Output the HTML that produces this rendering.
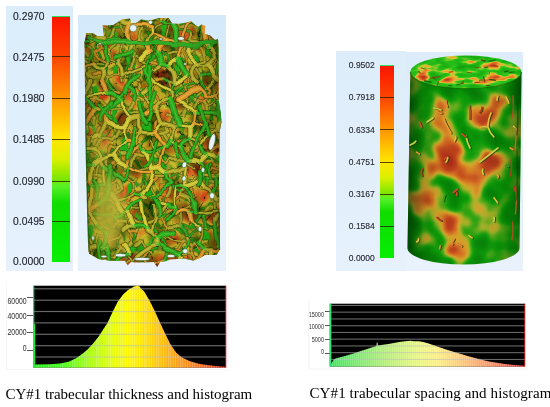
<!DOCTYPE html>
<html><head><meta charset="utf-8"><title>CY#1</title>
<style>
html,body{margin:0;padding:0;background:#fff;}
body{width:550px;height:407px;position:relative;overflow:hidden;font-family:"Liberation Sans",Arial,sans-serif;}
.abs{position:absolute;}
.lg1{position:absolute;left:0;width:44.6px;text-align:right;font-size:10.3px;line-height:12px;height:12px;color:#2c3038;text-shadow:0 0 .5px rgba(44,48,56,.55);}
.lg2{position:absolute;left:336px;width:38.8px;text-align:right;font-size:8.5px;line-height:10px;height:10px;color:#30343c;text-shadow:0 0 .4px rgba(44,48,56,.5);}
.cap{position:absolute;font-family:"Liberation Serif","Times New Roman",serif;font-size:15px;line-height:18px;color:#000;white-space:nowrap;}
.ax{position:absolute;font-size:8.3px;line-height:8px;height:8px;color:#2e2e2e;text-align:right;transform-origin:100% 50%;}
</style></head><body>
<!-- panels -->
<div class="abs" style="left:6.2px;top:6.2px;width:67.2px;height:264.4px;background:linear-gradient(180deg,#dbedfb,#e6f1fc);"></div>
<div class="abs" style="left:78.4px;top:14.5px;width:147.7px;height:256.2px;background:linear-gradient(180deg,#d4eafa,#e9f2fc);"></div>
<div class="abs" style="left:336.2px;top:50.8px;width:70px;height:219.8px;background:linear-gradient(180deg,#ddedfa,#e6f1fc);"></div>
<div class="abs" style="left:405.5px;top:52px;width:117.5px;height:218.6px;background:linear-gradient(180deg,#dcecfa,#e9f2fc);"></div>
<!-- colour bars -->
<div class="abs" style="left:52.4px;top:16px;width:17.6px;height:245.6px;background:linear-gradient(180deg,#ff1400 0%,#fb4600 16.7%,#ff9600 33.3%,#ffe600 50%,#dcf000 58%,#78e600 66.7%,#5af028 69%,#10dc00 76%,#06ee02 100%);"></div>
<div class="abs" style="left:52.4px;top:15.6px;width:17.6px;height:1px;background:#2fe060;"></div>
<div class="abs" style="left:380.2px;top:65.5px;width:13.6px;height:192.5px;background:linear-gradient(180deg,#ff1400 0%,#fb4600 16.7%,#ff9600 33.3%,#ffe600 50%,#dcf000 58%,#78e600 66.7%,#5af028 69%,#10dc00 76%,#06ee02 100%);"></div>
<div class="abs" style="left:380.2px;top:65px;width:13.6px;height:1px;background:#2fe060;"></div>
<div class="lg1" style="top:11.0px;">0.2970</div><div class="lg1" style="top:51.5px;">0.2475</div><div class="abs" style="left:52.4px;top:56.4px;width:17.6px;height:1px;background:rgba(40,30,0,.8);"></div><div class="lg1" style="top:92.7px;">0.1980</div><div class="abs" style="left:52.4px;top:97.6px;width:17.6px;height:1px;background:rgba(40,30,0,.8);"></div><div class="lg1" style="top:133.8px;">0.1485</div><div class="abs" style="left:52.4px;top:138.7px;width:17.6px;height:1px;background:rgba(40,30,0,.8);"></div><div class="lg1" style="top:175.7px;">0.0990</div><div class="abs" style="left:52.4px;top:180.6px;width:17.6px;height:1px;background:rgba(40,30,0,.8);"></div><div class="lg1" style="top:216.4px;">0.0495</div><div class="abs" style="left:52.4px;top:221.3px;width:17.6px;height:1px;background:rgba(40,30,0,.8);"></div><div class="lg1" style="top:256.1px;">0.0000</div><div class="lg2" style="top:60.4px;">0.9502</div><div class="lg2" style="top:92.3px;">0.7918</div><div class="abs" style="left:380.2px;top:97.0px;width:13.6px;height:1px;background:rgba(40,30,0,.8);"></div><div class="lg2" style="top:124.7px;">0.6334</div><div class="abs" style="left:380.2px;top:129.4px;width:13.6px;height:1px;background:rgba(40,30,0,.8);"></div><div class="lg2" style="top:157.0px;">0.4751</div><div class="abs" style="left:380.2px;top:161.7px;width:13.6px;height:1px;background:rgba(40,30,0,.8);"></div><div class="lg2" style="top:189.1px;">0.3167</div><div class="abs" style="left:380.2px;top:193.8px;width:13.6px;height:1px;background:rgba(40,30,0,.8);"></div><div class="lg2" style="top:220.9px;">0.1584</div><div class="abs" style="left:380.2px;top:225.6px;width:13.6px;height:1px;background:rgba(40,30,0,.8);"></div><div class="lg2" style="top:252.8px;">0.0000</div><div class="cap" style="left:5.5px;top:384.5px;letter-spacing:-0.04px;">CY#1 trabecular thickness and histogram</div><div class="cap" style="left:309.5px;top:384px;letter-spacing:0.1px;">CY#1 trabecular spacing and histogram</div><div class="ax" style="left:0;width:26.6px;top:296.5px;font-size:8.4px;transform:scaleX(.82);">60000</div><div class="abs" style="left:27px;top:296.5px;width:6.5px;height:1px;background:#555;"></div><div class="ax" style="left:0;width:26.6px;top:312.0px;font-size:8.4px;transform:scaleX(.82);">40000</div><div class="abs" style="left:27px;top:314.5px;width:6.5px;height:1px;background:#555;"></div><div class="ax" style="left:0;width:26.6px;top:328.2px;font-size:8.4px;transform:scaleX(.82);">20000</div><div class="abs" style="left:27px;top:331.5px;width:6.5px;height:1px;background:#555;"></div><div class="ax" style="left:0;width:26.6px;top:344.1px;font-size:8.4px;transform:scaleX(.82);">0</div><div class="abs" style="left:27px;top:349.8px;width:6.5px;height:1px;background:#555;"></div><div class="ax" style="left:300px;width:24px;top:310.8px;font-size:6.5px;transform:scaleX(.85);">15000</div><div class="abs" style="left:324.5px;top:311.2px;width:5px;height:1px;background:#555;"></div><div class="ax" style="left:300px;width:24px;top:323.0px;font-size:6.5px;transform:scaleX(.85);">10000</div><div class="abs" style="left:324.5px;top:324.5px;width:5px;height:1px;background:#555;"></div><div class="ax" style="left:300px;width:24px;top:335.5px;font-size:6.5px;transform:scaleX(.85);">5000</div><div class="abs" style="left:324.5px;top:338.5px;width:5px;height:1px;background:#555;"></div><div class="ax" style="left:300px;width:24px;top:348.4px;font-size:6.5px;transform:scaleX(.85);">0</div><div class="abs" style="left:324.5px;top:352.5px;width:5px;height:1px;background:#555;"></div><svg class="abs" style="left:0;top:0;" width="550" height="407" viewBox="0 0 550 407">
<defs>
<linearGradient id="hg1" x1="33.5" x2="226" y1="0" y2="0" gradientUnits="userSpaceOnUse">
<stop offset="0" stop-color="#20f010"/><stop offset="0.14" stop-color="#3cff14"/><stop offset="0.28" stop-color="#a0ff10"/><stop offset="0.40" stop-color="#e0ff08"/><stop offset="0.50" stop-color="#fff600"/><stop offset="0.58" stop-color="#ffe000"/><stop offset="0.72" stop-color="#ffa810"/><stop offset="0.85" stop-color="#ff7820"/><stop offset="0.95" stop-color="#ff4020"/><stop offset="1" stop-color="#ff1010"/></linearGradient>
<linearGradient id="hg2" x1="330" x2="525" y1="0" y2="0" gradientUnits="userSpaceOnUse">
<stop offset="0" stop-color="#38e65a"/><stop offset="0.15" stop-color="#7cec6a"/><stop offset="0.3" stop-color="#b8f270"/><stop offset="0.45" stop-color="#e8f878"/><stop offset="0.55" stop-color="#fff07a"/><stop offset="0.7" stop-color="#ffc070"/><stop offset="0.85" stop-color="#ff8860"/><stop offset="1" stop-color="#ff3030"/></linearGradient>
<pattern id="st1" x="33.5" y="0" width="2.4" height="10" patternUnits="userSpaceOnUse"><rect x="0" y="0" width="0.9" height="10" fill="rgba(255,255,255,.3)"/></pattern>
<pattern id="st2" x="330" y="0" width="2" height="10" patternUnits="userSpaceOnUse"><rect x="0" y="0" width="0.8" height="10" fill="rgba(255,255,255,.22)"/></pattern>
<filter id="fcyl" x="0" y="0" width="100%" height="100%" color-interpolation-filters="sRGB">
<feGaussianBlur in="SourceGraphic" stdDeviation="6" result="bias"/>
<feTurbulence type="fractalNoise" baseFrequency="0.045 0.04" numOctaves="2" seed="7"/>
<feColorMatrix type="matrix" values="1 0 0 0 0 1 0 0 0 0 1 0 0 0 0 0 0 0 0 1" result="n"/>
<feComposite in="bias" in2="n" operator="arithmetic" k1="0" k2="0.52" k3="0.8" k4="-0.085"/>
<feComponentTransfer><feFuncR type="table" tableValues="0.016 0.017 0.017 0.018 0.019 0.020 0.021 0.022 0.023 0.025 0.029 0.034 0.039 0.044 0.080 0.164 0.247 0.338 0.457 0.576 0.676 0.747 0.818 0.845 0.841 0.837 0.833 0.821 0.803 0.785 0.767 0.749 0.736 0.725 0.714 0.703 0.692 0.680 0.669 0.658 0.647"/><feFuncG type="table" tableValues="0.447 0.457 0.467 0.476 0.486 0.496 0.506 0.516 0.525 0.537 0.554 0.571 0.588 0.605 0.621 0.635 0.648 0.662 0.676 0.690 0.689 0.667 0.644 0.606 0.557 0.508 0.459 0.417 0.379 0.342 0.304 0.266 0.250 0.238 0.226 0.215 0.203 0.192 0.180 0.168 0.157"/><feFuncB type="table" tableValues="0.016 0.016 0.017 0.017 0.017 0.018 0.018 0.019 0.019 0.020 0.023 0.025 0.027 0.030 0.039 0.059 0.078 0.098 0.118 0.137 0.150 0.153 0.156 0.153 0.147 0.142 0.136 0.129 0.123 0.116 0.110 0.103 0.100 0.097 0.094 0.092 0.089 0.086 0.084 0.081 0.078"/></feComponentTransfer>
<feComposite in2="SourceAlpha" operator="in"/></filter>
<filter id="ftop" x="0" y="0" width="100%" height="100%" color-interpolation-filters="sRGB">
<feGaussianBlur in="SourceGraphic" stdDeviation="2.2 1.2" result="bias"/>
<feTurbulence type="fractalNoise" baseFrequency="0.07 0.2" numOctaves="2" seed="11"/>
<feColorMatrix type="matrix" values="1 0 0 0 0 1 0 0 0 0 1 0 0 0 0 0 0 0 0 1" result="n"/>
<feComposite in="bias" in2="n" operator="arithmetic" k1="0" k2="0.36" k3="0.95" k4="-0.16"/>
<feComponentTransfer><feFuncR type="table" tableValues="0.086 0.089 0.093 0.096 0.099 0.102 0.105 0.108 0.111 0.115 0.118 0.127 0.137 0.147 0.157 0.167 0.176 0.268 0.359 0.465 0.631 0.778 0.845 0.912 0.920 0.914 0.907 0.901 0.894 0.871 0.848 0.825 0.802 0.779 0.759 0.743 0.728 0.713 0.697 0.682 0.667"/><feFuncG type="table" tableValues="0.627 0.635 0.643 0.651 0.659 0.667 0.675 0.682 0.690 0.698 0.706 0.716 0.725 0.735 0.745 0.755 0.765 0.772 0.779 0.786 0.796 0.795 0.751 0.707 0.660 0.613 0.565 0.518 0.471 0.431 0.392 0.353 0.314 0.275 0.245 0.230 0.216 0.201 0.186 0.172 0.157"/><feFuncB type="table" tableValues="0.059 0.061 0.063 0.065 0.067 0.069 0.071 0.073 0.075 0.076 0.078 0.084 0.089 0.094 0.099 0.105 0.110 0.124 0.138 0.155 0.182 0.203 0.196 0.190 0.183 0.176 0.170 0.163 0.157 0.150 0.143 0.136 0.129 0.122 0.116 0.113 0.110 0.107 0.104 0.101 0.098"/></feComponentTransfer>
<feComposite in2="SourceAlpha" operator="in"/></filter>
<filter id="ftr" x="0" y="0" width="100%" height="100%" color-interpolation-filters="sRGB">
<feTurbulence type="turbulence" baseFrequency="0.052 0.044" numOctaves="2" seed="5"/>
<feColorMatrix type="matrix" values="1 0 0 0 0 1 0 0 0 0 1 0 0 0 0 0 0 0 0 1"/>
<feComponentTransfer result="col"><feFuncR type="table" tableValues="0.110 0.129 0.149 0.222 0.463 0.585 0.676 0.721 0.765 0.800 0.800 0.800 0.800 0.804 0.821 0.839 0.856 0.871 0.871 0.871 0.871 0.871 0.864 0.849 0.834 0.818 0.803 0.787 0.779 0.773 0.767 0.761 0.755 0.749 0.743 0.737 0.730 0.724 0.718 0.712 0.706"/><feFuncG type="table" tableValues="0.659 0.654 0.649 0.491 0.502 0.590 0.657 0.691 0.725 0.746 0.711 0.675 0.640 0.605 0.574 0.543 0.511 0.480 0.447 0.414 0.382 0.349 0.321 0.301 0.281 0.260 0.240 0.220 0.212 0.207 0.203 0.198 0.194 0.189 0.184 0.180 0.175 0.171 0.166 0.161 0.157"/><feFuncB type="table" tableValues="0.086 0.090 0.093 0.071 0.102 0.126 0.144 0.151 0.159 0.164 0.158 0.152 0.146 0.140 0.136 0.133 0.129 0.125 0.122 0.118 0.115 0.112 0.109 0.107 0.105 0.103 0.101 0.098 0.098 0.098 0.098 0.098 0.098 0.098 0.098 0.098 0.098 0.098 0.098 0.098 0.098"/></feComponentTransfer>
<feTurbulence type="turbulence" baseFrequency="0.06 0.048" numOctaves="2" seed="31"/>
<feColorMatrix type="matrix" values="0 1 0 0 0 0 1 0 0 0 0 1 0 0 0 0 0 0 0 1"/>
<feComponentTransfer result="ol"><feFuncR type="table" tableValues="0.314 0.377 0.440 0.519 0.663 0.808 0.921 0.987 1.000 1.000 1.000 1.000 1.000 1.000 1.000 1.000 1.000 1.000 1.000 1.000 1.000 1.000 1.000 1.000 1.000 1.000 1.000 1.000 1.000 1.000 1.000 1.000 1.000 1.000 1.000 1.000 1.000 1.000 1.000 1.000 1.000 1.000 1.000 1.000 1.000 1.000 1.000 1.000 1.000 1.000 1.000 1.000 1.000 1.000 1.000 1.000 1.000 1.000 1.000 1.000 1.000 1.000 1.000 1.000 1.000 1.000 1.000 1.000 1.000 1.000 1.000 1.000 1.000 1.000 1.000 1.000 1.000 1.000 1.000 1.000 1.000"/><feFuncG type="table" tableValues="0.373 0.430 0.487 0.559 0.688 0.817 0.921 0.987 1.000 1.000 1.000 1.000 1.000 1.000 1.000 1.000 1.000 1.000 1.000 1.000 1.000 1.000 1.000 1.000 1.000 1.000 1.000 1.000 1.000 1.000 1.000 1.000 1.000 1.000 1.000 1.000 1.000 1.000 1.000 1.000 1.000 1.000 1.000 1.000 1.000 1.000 1.000 1.000 1.000 1.000 1.000 1.000 1.000 1.000 1.000 1.000 1.000 1.000 1.000 1.000 1.000 1.000 1.000 1.000 1.000 1.000 1.000 1.000 1.000 1.000 1.000 1.000 1.000 1.000 1.000 1.000 1.000 1.000 1.000 1.000 1.000"/><feFuncB type="table" tableValues="0.098 0.130 0.162 0.228 0.427 0.626 0.809 0.968 1.000 1.000 1.000 1.000 1.000 1.000 1.000 1.000 1.000 1.000 1.000 1.000 1.000 1.000 1.000 1.000 1.000 1.000 1.000 1.000 1.000 1.000 1.000 1.000 1.000 1.000 1.000 1.000 1.000 1.000 1.000 1.000 1.000 1.000 1.000 1.000 1.000 1.000 1.000 1.000 1.000 1.000 1.000 1.000 1.000 1.000 1.000 1.000 1.000 1.000 1.000 1.000 1.000 1.000 1.000 1.000 1.000 1.000 1.000 1.000 1.000 1.000 1.000 1.000 1.000 1.000 1.000 1.000 1.000 1.000 1.000 1.000 1.000"/></feComponentTransfer>
<feTurbulence type="fractalNoise" baseFrequency="0.05 0.045" numOctaves="2" seed="23"/>
<feColorMatrix type="matrix" values="0 0 1 0 0 0 0 1 0 0 0 0 1 0 0 0 0 0 0 1"/>
<feComponentTransfer result="sh"><feFuncR type="table" tableValues="0.345 0.356 0.366 0.376 0.387 0.397 0.408 0.418 0.429 0.439 0.450 0.460 0.471 0.516 0.562 0.608 0.654 0.700 0.751 0.802 0.853 0.899 0.922 0.946 0.969 0.989 0.993 0.996 1.000 1.000 1.000 1.000 1.000 1.000 1.000 1.000 1.000 1.000 1.000 1.000 1.000"/><feFuncG type="table" tableValues="0.408 0.417 0.426 0.435 0.444 0.454 0.463 0.472 0.481 0.490 0.499 0.508 0.518 0.558 0.599 0.640 0.681 0.723 0.770 0.817 0.864 0.906 0.928 0.949 0.971 0.989 0.993 0.996 1.000 1.000 1.000 1.000 1.000 1.000 1.000 1.000 1.000 1.000 1.000 1.000 1.000"/><feFuncB type="table" tableValues="0.110 0.116 0.122 0.127 0.133 0.139 0.145 0.151 0.157 0.163 0.169 0.175 0.180 0.225 0.269 0.313 0.357 0.410 0.498 0.586 0.675 0.756 0.809 0.862 0.915 0.960 0.973 0.987 1.000 1.000 1.000 1.000 1.000 1.000 1.000 1.000 1.000 1.000 1.000 1.000 1.000"/></feComponentTransfer>
<feBlend in="col" in2="ol" mode="multiply" result="c2"/>
<feBlend in="c2" in2="sh" mode="multiply" result="c3"/>
<feTurbulence type="fractalNoise" baseFrequency="0.075 0.05" numOctaves="2" seed="40"/>
<feColorMatrix type="matrix" values="0 0 0 0 0.11 0 0 0 0 0.68 0 0 0 0 0.08 -14 0 0 0 5.1" result="gr"/>
<feComposite in="gr" in2="c3" operator="over"/>
<feComposite in2="SourceAlpha" operator="in"/></filter>
<filter id="fnet" x="-5%" y="-5%" width="110%" height="110%" color-interpolation-filters="sRGB"><feTurbulence type="fractalNoise" baseFrequency="0.045" numOctaves="2" seed="9" result="d"/><feDisplacementMap in="SourceGraphic" in2="d" scale="7" xChannelSelector="R" yChannelSelector="G"/><feGaussianBlur stdDeviation="0.35"/></filter>
<filter id="fsm" x="-30%" y="-30%" width="160%" height="160%"><feGaussianBlur stdDeviation="5"/></filter>
<linearGradient id="cylsh" x1="408" x2="522" y1="0" y2="0" gradientUnits="userSpaceOnUse">
<stop offset="0" stop-color="#001800" stop-opacity=".6"/><stop offset="0.06" stop-color="#001800" stop-opacity=".38"/><stop offset="0.14" stop-color="#001800" stop-opacity=".15"/><stop offset="0.25" stop-color="#001800" stop-opacity=".04"/><stop offset="0.5" stop-color="#fff" stop-opacity=".0"/><stop offset="0.8" stop-color="#002000" stop-opacity=".08"/><stop offset="0.93" stop-color="#002000" stop-opacity=".25"/><stop offset="1" stop-color="#002000" stop-opacity=".5"/></linearGradient>
<linearGradient id="trsh" x1="86" x2="219" y1="0" y2="0" gradientUnits="userSpaceOnUse">
<stop offset="0" stop-color="#202000" stop-opacity=".35"/><stop offset="0.08" stop-color="#202000" stop-opacity=".1"/><stop offset="0.5" stop-color="#fff" stop-opacity="0"/><stop offset="0.92" stop-color="#202000" stop-opacity=".1"/><stop offset="1" stop-color="#202000" stop-opacity=".35"/></linearGradient>
</defs>
<path d="M6.6,283 V369.6 H229" fill="none" stroke="#f0f0f0" stroke-width="0.8"/>
<rect x="33.5" y="285.7" width="192.5" height="81.8" fill="#000"/>
<polygon points="33.5,367.5 34,364.5 50,364.2 60,363.4 68.8,361.8 76.6,357.9 82.1,354 87.6,349.6 93.1,343.5 98.7,336.4 104.2,328.1 107.5,323.1 112.1,313.1 117.6,302.1 123.1,294.4 128.7,289.4 134.2,286.6 137.5,285.7 139.5,286.6 141.9,289.4 143.8,291 145.2,293.3 149.5,300.4 155.1,311.8 158.9,320.3 164.6,332.6 170.3,343.9 176,352.5 181.6,357.2 189.2,361 198.7,363.8 205.3,364.8 215,366 225.5,366.8 225.5,367.5" fill="url(#hg1)"/>
<polygon points="33.5,367.5 34,364.5 50,364.2 60,363.4 68.8,361.8 76.6,357.9 82.1,354 87.6,349.6 93.1,343.5 98.7,336.4 104.2,328.1 107.5,323.1 112.1,313.1 117.6,302.1 123.1,294.4 128.7,289.4 134.2,286.6 137.5,285.7 139.5,286.6 141.9,289.4 143.8,291 145.2,293.3 149.5,300.4 155.1,311.8 158.9,320.3 164.6,332.6 170.3,343.9 176,352.5 181.6,357.2 189.2,361 198.7,363.8 205.3,364.8 215,366 225.5,366.8 225.5,367.5" fill="url(#st1)"/>
<rect x="34" y="288.2" width="192" height="1.2" fill="rgba(190,190,190,.55)"/>
<rect x="34" y="299.6" width="192" height="1.2" fill="rgba(190,190,190,.55)"/>
<rect x="34" y="310.9" width="192" height="1.2" fill="rgba(190,190,190,.55)"/>
<rect x="34" y="322.3" width="192" height="1.2" fill="rgba(190,190,190,.55)"/>
<rect x="34" y="333.7" width="192" height="1.2" fill="rgba(190,190,190,.55)"/>
<rect x="34" y="345.1" width="192" height="1.2" fill="rgba(190,190,190,.55)"/>
<rect x="34" y="356.4" width="192" height="1.2" fill="rgba(190,190,190,.55)"/>
<rect x="33.2" y="285.7" width="1.1" height="81.8" fill="#20e070"/><rect x="33.2" y="324" width="2" height="43.5" fill="#20ee30"/>
<rect x="225.4" y="285.7" width="0.9" height="81.8" fill="#ff2020"/>
<path d="M308.8,300 V369 H528" fill="none" stroke="#efefef" stroke-width="0.8"/>
<rect x="329.8" y="303.7" width="195.2" height="62.8" fill="#000"/>
<polygon points="331,366.5 331,364 332,362.5 333.5,360 335.4,358.5 340,357.3 345,356 350,354.5 355.2,353 360,351.3 365,349.7 370,348 375,346.4 376.5,346 376.8,342.6 377.6,342.6 378,345.5 383,344.8 388.4,344 394,343 399.4,342 405,341.3 410.5,340.8 414,341.3 418.8,341.3 423,342 427.7,343.2 433,345 438.7,347 446,349.5 454.2,351.9 461,354 467.5,355.9 474,357.8 480.7,359.6 489,361.4 498.4,362.9 505,363.9 511.7,364.7 518,365.3 525,365.8 525,366.5" fill="url(#hg2)"/>
<polygon points="331,366.5 331,364 332,362.5 333.5,360 335.4,358.5 340,357.3 345,356 350,354.5 355.2,353 360,351.3 365,349.7 370,348 375,346.4 376.5,346 376.8,342.6 377.6,342.6 378,345.5 383,344.8 388.4,344 394,343 399.4,342 405,341.3 410.5,340.8 414,341.3 418.8,341.3 423,342 427.7,343.2 433,345 438.7,347 446,349.5 454.2,351.9 461,354 467.5,355.9 474,357.8 480.7,359.6 489,361.4 498.4,362.9 505,363.9 511.7,364.7 518,365.3 525,365.8 525,366.5" fill="url(#st2)"/>
<rect x="331" y="304.9" width="194" height="1.1" fill="rgba(190,190,190,.55)"/>
<rect x="331" y="311.6" width="194" height="1.1" fill="rgba(190,190,190,.55)"/>
<rect x="331" y="318.4" width="194" height="1.1" fill="rgba(190,190,190,.55)"/>
<rect x="331" y="325.2" width="194" height="1.1" fill="rgba(190,190,190,.55)"/>
<rect x="331" y="331.9" width="194" height="1.1" fill="rgba(190,190,190,.55)"/>
<rect x="331" y="338.6" width="194" height="1.1" fill="rgba(190,190,190,.55)"/>
<rect x="331" y="345.4" width="194" height="1.1" fill="rgba(190,190,190,.55)"/>
<rect x="331" y="352.1" width="194" height="1.1" fill="rgba(190,190,190,.55)"/>
<rect x="331" y="358.9" width="194" height="1.1" fill="rgba(190,190,190,.55)"/>
<rect x="329.5" y="303.7" width="1.8" height="62.8" fill="#2ce878"/>
<rect x="524.4" y="303.7" width="0.9" height="62.8" fill="#ff2020"/>
<g filter="url(#fcyl)"><path d="M410.3,72 L407.5,248 A56,16.5 0 0 0 519.5,248 L521.5,72 Z" fill="#000"/><ellipse cx="438" cy="121" rx="13" ry="8" fill="#fff" fill-opacity="1"/><ellipse cx="444" cy="105" rx="5" ry="9" fill="#fff" fill-opacity="0.8"/><ellipse cx="483" cy="117" rx="10" ry="14" fill="#fff" fill-opacity="1"/><ellipse cx="500" cy="101" rx="8" ry="7" fill="#fff" fill-opacity="0.6"/><ellipse cx="445" cy="147" rx="16" ry="10" fill="#fff" fill-opacity="1"/><ellipse cx="449" cy="166" rx="12" ry="9" fill="#fff" fill-opacity="0.9"/><ellipse cx="494" cy="161" rx="14" ry="11" fill="#fff" fill-opacity="0.9"/><ellipse cx="470" cy="172" rx="18" ry="7" fill="#fff" fill-opacity="0.9"/><ellipse cx="478" cy="181" rx="11" ry="8" fill="#fff" fill-opacity="1"/><ellipse cx="423" cy="198" rx="9" ry="18" fill="#fff" fill-opacity="0.85"/><ellipse cx="438" cy="194" rx="8" ry="7" fill="#fff" fill-opacity="0.7"/><ellipse cx="452" cy="224" rx="14" ry="10" fill="#fff" fill-opacity="0.95"/><ellipse cx="457" cy="251" rx="12" ry="9" fill="#fff" fill-opacity="1"/><ellipse cx="490" cy="232" rx="10" ry="10" fill="#fff" fill-opacity="0.55"/><ellipse cx="428" cy="135" rx="6" ry="10" fill="#fff" fill-opacity="0.6"/><ellipse cx="508" cy="130" rx="5" ry="14" fill="#fff" fill-opacity="0.5"/><ellipse cx="432" cy="170" rx="8" ry="8" fill="#fff" fill-opacity="0.6"/></g>
<path d="M410.3,72 L407.5,248 A56,16.5 0 0 0 519.5,248 L521.5,72 Z" fill="url(#cylsh)"/>
<clipPath id="cylclip"><path d="M410.3,72 L407.5,248 A56,16.5 0 0 0 519.5,248 L521.5,72 Z"/></clipPath><g fill="none" stroke-linecap="round" clip-path="url(#cylclip)"><path d="M470.4,106.4 Q471.0,112.2 470.7,119.4" stroke="rgba(20,50,5,.75)" stroke-width="1.9"/><path d="M469.5,106.0 Q470.1,111.8 469.8,119.0" stroke="#d84a28" stroke-width="1.7"/><path d="M491.9,113.4 Q488.7,121.2 488.9,127.4" stroke="rgba(20,50,5,.75)" stroke-width="1.9"/><path d="M491.0,113.0 Q487.8,120.8 488.0,127.0" stroke="#e0c038" stroke-width="1.7"/><path d="M481.9,127.4 Q484.6,127.1 488.9,127.4" stroke="rgba(20,50,5,.75)" stroke-width="1.9"/><path d="M481.0,127.0 Q483.7,126.7 488.0,127.0" stroke="#e0c038" stroke-width="1.7"/><path d="M488.9,127.4 Q490.2,132.5 494.9,137.4" stroke="rgba(20,50,5,.75)" stroke-width="1.9"/><path d="M488.0,127.0 Q489.3,132.1 494.0,137.0" stroke="#c8d040" stroke-width="1.7"/><path d="M480.9,162.4 Q488.7,156.4 498.9,148.4" stroke="rgba(20,50,5,.75)" stroke-width="1.9"/><path d="M480.0,162.0 Q487.8,156.0 498.0,148.0" stroke="#c8d040" stroke-width="1.7"/><path d="M466.9,136.4 Q467.8,142.4 470.9,148.4" stroke="rgba(20,50,5,.75)" stroke-width="1.9"/><path d="M466.0,136.0 Q466.9,142.0 470.0,148.0" stroke="#c8d040" stroke-width="1.7"/><path d="M444.9,119.4 Q446.8,125.6 451.9,133.4" stroke="rgba(20,50,5,.75)" stroke-width="1.9"/><path d="M444.0,119.0 Q445.9,125.2 451.0,133.0" stroke="#e89a30" stroke-width="1.7"/><path d="M434.9,108.4 Q439.6,109.1 441.9,110.4" stroke="rgba(20,50,5,.75)" stroke-width="1.9"/><path d="M434.0,108.0 Q438.7,108.7 441.0,110.0" stroke="#c8d040" stroke-width="1.7"/><path d="M427.9,122.4 Q430.6,120.8 433.9,118.4" stroke="rgba(20,50,5,.75)" stroke-width="1.9"/><path d="M427.0,122.0 Q429.7,120.4 433.0,118.0" stroke="#c8d040" stroke-width="1.7"/><path d="M438.5,111.9 Q438.9,113.6 442.7,113.7" stroke="rgba(20,50,5,.75)" stroke-width="1.9"/><path d="M437.6,111.5 Q438.0,113.2 441.8,113.3" stroke="#e88430" stroke-width="1.7"/><path d="M494.9,217.8 Q495.4,220.6 494.8,221.7" stroke="rgba(20,50,5,.75)" stroke-width="1.9"/><path d="M494.0,217.4 Q494.5,220.2 493.9,221.3" stroke="#c8d040" stroke-width="1.7"/><path d="M441.1,246.3 Q440.5,248.4 440.6,249.3" stroke="rgba(20,50,5,.75)" stroke-width="1.9"/><path d="M440.2,245.9 Q439.6,248.0 439.7,248.9" stroke="#e88430" stroke-width="1.7"/><path d="M445.9,195.7 Q444.6,197.9 444.4,201.5" stroke="rgba(20,50,5,.75)" stroke-width="1.9"/><path d="M445.0,195.3 Q443.7,197.5 443.5,201.1" stroke="#30a020" stroke-width="1.7"/><path d="M448.6,157.5 Q445.6,158.5 445.3,159.6" stroke="rgba(20,50,5,.75)" stroke-width="1.9"/><path d="M447.7,157.1 Q444.7,158.1 444.4,159.2" stroke="#d84a28" stroke-width="1.7"/><path d="M498.9,96.6 Q497.5,99.5 498.1,100.6" stroke="rgba(20,50,5,.75)" stroke-width="1.9"/><path d="M498.0,96.2 Q496.6,99.1 497.2,100.2" stroke="#e0c038" stroke-width="1.7"/><path d="M456.3,191.2 Q458.0,192.5 457.9,195.7" stroke="rgba(20,50,5,.75)" stroke-width="1.9"/><path d="M455.4,190.8 Q457.1,192.1 457.0,195.3" stroke="#d84a28" stroke-width="1.7"/><path d="M423.0,169.4 Q421.4,172.1 422.9,176.4" stroke="rgba(20,50,5,.75)" stroke-width="1.9"/><path d="M422.1,169.0 Q420.5,171.7 422.0,176.0" stroke="#c03a20" stroke-width="1.7"/><path d="M514.6,126.7 Q516.9,128.5 517.5,130.3" stroke="rgba(20,50,5,.75)" stroke-width="1.9"/><path d="M513.7,126.3 Q516.0,128.1 516.6,129.9" stroke="#e0c038" stroke-width="1.7"/><path d="M458.5,189.6 Q456.4,191.1 454.1,193.0" stroke="rgba(20,50,5,.75)" stroke-width="1.9"/><path d="M457.6,189.2 Q455.5,190.7 453.2,192.6" stroke="#d84a28" stroke-width="1.7"/><path d="M437.8,217.8 Q439.4,220.0 442.2,221.1" stroke="rgba(20,50,5,.75)" stroke-width="1.9"/><path d="M436.9,217.4 Q438.5,219.6 441.3,220.7" stroke="#c03a20" stroke-width="1.7"/><path d="M417.5,152.5 Q419.4,153.8 420.2,154.4" stroke="rgba(20,50,5,.75)" stroke-width="1.9"/><path d="M416.6,152.1 Q418.5,153.4 419.3,154.0" stroke="#e89a30" stroke-width="1.7"/><path d="M416.7,141.6 Q415.5,143.6 411.0,145.4" stroke="rgba(20,50,5,.75)" stroke-width="1.9"/><path d="M415.8,141.2 Q414.6,143.2 410.1,145.0" stroke="#c8d040" stroke-width="1.7"/><path d="M482.9,107.8 Q483.0,110.5 480.8,112.9" stroke="rgba(20,50,5,.75)" stroke-width="1.9"/><path d="M482.0,107.4 Q482.1,110.1 479.9,112.5" stroke="#c03a20" stroke-width="1.7"/><path d="M511.1,148.4 Q512.4,149.0 513.8,149.9" stroke="rgba(20,50,5,.75)" stroke-width="1.9"/><path d="M510.2,148.0 Q511.5,148.6 512.9,149.5" stroke="#e89a30" stroke-width="1.7"/><path d="M514.6,186.8 Q515.1,188.4 516.1,191.4" stroke="rgba(20,50,5,.75)" stroke-width="1.9"/><path d="M513.7,186.4 Q514.2,188.0 515.2,191.0" stroke="#c03a20" stroke-width="1.7"/><path d="M420.4,122.4 Q421.8,126.0 422.5,127.7" stroke="rgba(20,50,5,.75)" stroke-width="1.9"/><path d="M419.5,122.0 Q420.9,125.6 421.6,127.3" stroke="#d84a28" stroke-width="1.7"/><path d="M447.0,101.1 Q446.3,103.4 448.4,107.3" stroke="rgba(20,50,5,.75)" stroke-width="1.9"/><path d="M446.1,100.7 Q445.4,103.0 447.5,106.9" stroke="#e88430" stroke-width="1.7"/><path d="M462.7,134.1 Q465.1,135.9 466.2,137.1" stroke="rgba(20,50,5,.75)" stroke-width="1.9"/><path d="M461.8,133.7 Q464.2,135.5 465.3,136.7" stroke="#d84a28" stroke-width="1.7"/><path d="M498.0,175.2 Q500.0,176.4 498.8,178.2" stroke="rgba(20,50,5,.75)" stroke-width="1.9"/><path d="M497.1,174.8 Q499.1,176.0 497.9,177.8" stroke="#e89a30" stroke-width="1.7"/><path d="M456.6,137.3 Q457.2,139.7 455.4,141.4" stroke="rgba(20,50,5,.75)" stroke-width="1.9"/><path d="M455.7,136.9 Q456.3,139.3 454.5,141.0" stroke="#e0c038" stroke-width="1.7"/><path d="M455.2,239.6 Q452.7,242.5 453.5,244.9" stroke="rgba(20,50,5,.75)" stroke-width="1.9"/><path d="M454.3,239.2 Q451.8,242.1 452.6,244.5" stroke="#e88430" stroke-width="1.7"/><path d="M457.9,244.2 Q459.6,245.2 462.6,246.7" stroke="rgba(20,50,5,.75)" stroke-width="1.9"/><path d="M457.0,243.8 Q458.7,244.8 461.7,246.3" stroke="#e88430" stroke-width="1.7"/><path d="M494.9,198.2 Q495.9,199.7 498.6,203.2" stroke="rgba(20,50,5,.75)" stroke-width="1.9"/><path d="M494.0,197.8 Q495.0,199.3 497.7,202.8" stroke="#e0c038" stroke-width="1.7"/><path d="M448.8,158.1 Q447.9,161.0 446.9,162.8" stroke="rgba(20,50,5,.75)" stroke-width="1.9"/><path d="M447.9,157.7 Q447.0,160.6 446.0,162.4" stroke="#e0c038" stroke-width="1.7"/><path d="M419.4,239.2 Q419.7,241.4 417.7,242.3" stroke="rgba(20,50,5,.75)" stroke-width="1.9"/><path d="M418.5,238.8 Q418.8,241.0 416.8,241.9" stroke="#e0c038" stroke-width="1.7"/><path d="M483.7,169.7 Q482.6,172.3 484.2,174.6" stroke="rgba(20,50,5,.75)" stroke-width="1.9"/><path d="M482.8,169.3 Q481.7,171.9 483.3,174.2" stroke="#c8d040" stroke-width="1.7"/><path d="M507.1,97.5 Q509.1,101.5 509.7,103.5" stroke="rgba(20,50,5,.75)" stroke-width="1.9"/><path d="M506.2,97.1 Q508.2,101.1 508.8,103.1" stroke="#e0c038" stroke-width="1.7"/><path d="M470.0,236.0 Q472.5,238.1 473.0,238.3" stroke="rgba(20,50,5,.75)" stroke-width="1.9"/><path d="M469.1,235.6 Q471.6,237.7 472.1,237.9" stroke="#e0c038" stroke-width="1.7"/><path d="M506.4,165.7 Q506.6,166.4 509.4,167.2" stroke="rgba(20,50,5,.75)" stroke-width="1.9"/><path d="M505.5,165.3 Q505.7,166.0 508.5,166.8" stroke="#30a020" stroke-width="1.7"/></g>
<g filter="url(#ftop)"><ellipse cx="465.9" cy="72" rx="55.6" ry="16.6" fill="#000"/><ellipse cx="429" cy="68" rx="10" ry="3" fill="#fff" fill-opacity="0.9"/><ellipse cx="424" cy="77" rx="8" ry="4" fill="#fff" fill-opacity="0.7"/><ellipse cx="453" cy="80" rx="14" ry="4" fill="#fff" fill-opacity="0.8"/><ellipse cx="494" cy="66" rx="14" ry="3.5" fill="#fff" fill-opacity="0.9"/><ellipse cx="489" cy="80" rx="19" ry="5" fill="#fff" fill-opacity="0.9"/><ellipse cx="466" cy="62" rx="8" ry="2.5" fill="#fff" fill-opacity="0.6"/><ellipse cx="510" cy="74" rx="7" ry="4" fill="#fff" fill-opacity="0.7"/></g>
<clipPath id="topclip"><ellipse cx="465.9" cy="72" rx="55" ry="16"/></clipPath><g clip-path="url(#topclip)" fill="none" stroke-linecap="round"><path d="M433.8,77.6 L439.6,76.6" stroke="rgba(150,50,20,.8)" stroke-width="1.4"/><path d="M467.2,72.6 L471.3,72.3" stroke="rgba(150,50,20,.8)" stroke-width="0.9"/><path d="M494.2,65.3 L497.6,66.5" stroke="rgba(150,50,20,.8)" stroke-width="1.3"/><path d="M421.3,67.9 L425.9,69.3" stroke="rgba(20,90,10,.8)" stroke-width="0.9"/><path d="M489.1,61.4 L495.6,60.0" stroke="rgba(20,90,10,.8)" stroke-width="1.1"/><path d="M432.5,77.0 L435.5,79.2" stroke="rgba(90,50,10,.75)" stroke-width="1.0"/><path d="M511.0,83.1 L510.2,86.5" stroke="rgba(30,70,8,.8)" stroke-width="1.0"/><path d="M463.7,81.3 L461.7,83.0" stroke="rgba(150,50,20,.8)" stroke-width="1.1"/><path d="M509.6,72.5 L514.0,71.9" stroke="rgba(30,70,8,.8)" stroke-width="1.0"/><path d="M486.7,85.5 L489.7,85.7" stroke="rgba(90,50,10,.75)" stroke-width="1.2"/><path d="M448.6,85.5 L452.1,85.7" stroke="rgba(20,90,10,.8)" stroke-width="1.1"/><path d="M475.3,67.3 L478.6,67.9" stroke="rgba(150,50,20,.8)" stroke-width="1.1"/><path d="M483.6,77.2 L484.6,81.0" stroke="rgba(90,50,10,.75)" stroke-width="1.5"/><path d="M474.7,82.8 L479.9,82.0" stroke="rgba(90,50,10,.75)" stroke-width="1.0"/><path d="M424.7,80.7 L431.0,82.1" stroke="rgba(30,70,8,.8)" stroke-width="1.4"/><path d="M481.2,59.9 L485.0,60.9" stroke="rgba(90,50,10,.75)" stroke-width="1.5"/><path d="M489.6,71.9 L489.4,74.1" stroke="rgba(150,50,20,.8)" stroke-width="0.9"/><path d="M438.4,81.6 L437.4,85.1" stroke="rgba(150,50,20,.8)" stroke-width="1.2"/><path d="M504.6,71.9 L508.0,71.1" stroke="rgba(30,70,8,.8)" stroke-width="1.1"/><path d="M430.1,78.3 L434.2,77.7" stroke="rgba(150,50,20,.8)" stroke-width="1.1"/><path d="M456.9,84.9 L463.6,83.1" stroke="rgba(30,70,8,.8)" stroke-width="1.0"/><path d="M479.6,80.2 L482.8,79.8" stroke="rgba(20,90,10,.8)" stroke-width="1.2"/><path d="M449.1,72.3 L452.9,71.6" stroke="rgba(150,50,20,.8)" stroke-width="1.0"/><path d="M489.4,79.4 L495.2,80.3" stroke="rgba(30,70,8,.8)" stroke-width="1.4"/><path d="M418.8,71.5 L420.2,73.0" stroke="rgba(90,50,10,.75)" stroke-width="1.1"/><path d="M484.9,67.5 L488.0,67.1" stroke="rgba(20,90,10,.8)" stroke-width="1.4"/></g>
<g fill="none" stroke-linecap="round" clip-path="url(#cylclip)"><path d="M513,96 Q514.2,107.0 512.5,118" stroke="#c8442a" stroke-width="1.5" stroke-opacity=".85"/><path d="M515.5,128 Q516.7,139.0 515.0,150" stroke="#d0662c" stroke-width="1.5" stroke-opacity=".85"/><path d="M511,160 Q512.2,168.0 510.5,176" stroke="#c03a24" stroke-width="1.5" stroke-opacity=".85"/><path d="M516,186 Q517.2,200.0 515.5,214" stroke="#c85a2a" stroke-width="1.5" stroke-opacity=".85"/><path d="M512.5,222 Q513.7,231.0 512.0,240" stroke="#b84a26" stroke-width="1.5" stroke-opacity=".85"/><path d="M517.5,100 Q518.7,117.5 517.0,135" stroke="rgba(20,60,8,.7)" stroke-width="1.5" stroke-opacity=".85"/><path d="M517,150 Q518.2,175.0 516.5,200" stroke="rgba(20,60,8,.6)" stroke-width="1.5" stroke-opacity=".85"/></g>
<path d="M410.3,72 A55.6,16.6 0 0 0 521.5,72" fill="none" stroke="rgba(20,90,10,.55)" stroke-width="1.2"/>
<path d="M84.6,42 L86.5,33 L94,33.5 L97,36 L104,36.5 L102.5,25 L107.5,25.5 L113,25 L122,19.5 L130,18.6 L131,23 L136,23 L141,19.4 L149,20.8 L158.8,17.9 L169,17.9 L172,23.8 L179.5,23.8 L191.2,21.6 L195.7,25.3 L198.6,26.7 L201.5,24.5 L205.2,26 L204.5,34 L210.4,35.6 L214.8,40 L218,39.2 L218.5,46 L218.7,100 L220.5,112 L221.5,122 L219.5,132 L219,180 L219.5,215 L219.5,250 L216.7,254.7 L205,255 L200,258 L193.3,260.5 L184,258.5 L170,259.5 L166.4,261 L160,262 L157.2,267.2 L154,262 L138.8,262.6 L131,262 L127.7,265.4 L125,261 L111,260.8 L98.3,259 L89,253.4 L88.1,236.8 L87.2,200 L86,150 L85,90 Z" fill="#aa3" filter="url(#ftr)"/>
<clipPath id="trclip"><path d="M84.6,42 L86.5,33 L94,33.5 L97,36 L104,36.5 L102.5,25 L107.5,25.5 L113,25 L122,19.5 L130,18.6 L131,23 L136,23 L141,19.4 L149,20.8 L158.8,17.9 L169,17.9 L172,23.8 L179.5,23.8 L191.2,21.6 L195.7,25.3 L198.6,26.7 L201.5,24.5 L205.2,26 L204.5,34 L210.4,35.6 L214.8,40 L218,39.2 L218.5,46 L218.7,100 L220.5,112 L221.5,122 L219.5,132 L219,180 L219.5,215 L219.5,250 L216.7,254.7 L205,255 L200,258 L193.3,260.5 L184,258.5 L170,259.5 L166.4,261 L160,262 L157.2,267.2 L154,262 L138.8,262.6 L131,262 L127.7,265.4 L125,261 L111,260.8 L98.3,259 L89,253.4 L88.1,236.8 L87.2,200 L86,150 L85,90 Z"/></clipPath>
<g clip-path="url(#trclip)"><g filter="url(#fnet)" fill="none" stroke-linecap="round">
<path d="M146.7 65.1Q148.4 64.2 149.6 62.6M173.9 104.6Q170.9 102.6 167.8 100.8M174.0 118.1Q170.3 121.9 171.1 127.2M191.5 123.3Q190.8 127.0 193.1 129.9M169.6 145.6Q162.4 148.6 154.6 147.6M102.7 139.3Q99.8 137.7 97.4 135.3M82.1 225.4Q85.0 222.8 88.8 221.7M143.3 20.8Q134.4 20.0 126.4 15.9M131.4 152.6Q135.8 143.4 134.7 133.3M120.5 158.9Q121.8 156.3 121.4 153.4M85.2 165.5Q89.1 158.2 88.2 150.0M106.5 155.7Q101.9 153.3 97.2 155.5M180.2 173.8Q174.9 173.5 170.7 176.8M219.5 191.0Q214.6 189.2 210.2 191.9M215.7 228.5Q211.7 227.8 208.2 230.1M192.6 204.9Q196.0 209.4 201.1 211.8M135.0 56.0Q128.9 58.3 122.7 56.0M113.9 27.7Q117.9 27.2 121.9 26.8M132.4 97.6Q131.4 95.6 129.9 93.8M161.9 196.4Q161.3 200.1 161.1 203.9M119.3 246.7Q117.3 242.4 119.2 238.0M107.9 257.8Q102.9 251.6 96.5 246.8M118.2 177.8Q117.1 179.1 116.1 180.5M142.1 272.4Q140.2 265.0 133.2 262.1M167.8 65.6Q170.5 60.0 168.4 54.1M183.0 67.6Q184.3 68.0 184.9 69.1M155.1 52.2Q162.1 50.5 168.4 54.1M200.3 81.2Q201.1 85.6 205.0 87.8M204.4 37.3Q203.3 41.2 200.2 44.0M135.0 43.7Q137.5 41.1 140.2 38.9M166.5 265.7Q172.4 266.7 177.9 264.3M154.3 30.8Q157.1 24.8 163.5 23.2M101.4 14.8Q99.9 18.8 97.1 22.0M189.0 92.9Q187.1 98.6 185.8 104.5M174.0 118.1Q178.0 115.9 182.4 114.8M118.2 126.1Q121.1 128.0 124.4 127.3M108.1 110.1Q114.2 107.1 121.0 107.5M145.6 111.3Q146.0 113.3 145.1 115.2M135.3 133.3Q139.3 127.9 141.9 121.7M177.0 144.4Q173.6 144.2 170.5 145.5M119.0 207.1Q116.7 211.7 112.2 214.2M116.3 222.0Q112.8 218.9 112.2 214.2M91.3 247.7Q91.6 251.6 90.7 255.3M202.9 145.2Q202.3 137.8 200.8 130.4M151.6 91.6Q152.9 85.2 155.4 79.3M223.7 110.5Q224.2 107.9 226.3 106.4M219.9 97.6Q215.1 103.5 207.7 105.7M97.4 135.3Q93.6 136.3 89.8 137.0M171.0 174.0Q170.5 175.3 170.7 176.8M180.9 212.6Q180.8 217.0 181.3 221.3M181.3 221.3Q180.0 223.6 179.9 226.1M214.0 208.6Q215.5 209.6 217.1 210.0M221.6 214.9Q226.2 214.8 229.9 212.2M217.1 210.0Q219.8 212.0 221.6 214.9M183.1 241.3Q173.2 241.9 165.9 235.2M168.2 226.4Q165.4 230.4 165.9 235.2M180.9 212.6Q186.3 208.1 192.6 204.9M178.3 257.4Q184.5 254.3 191.3 255.7M92.6 216.3Q99.4 222.9 107.5 227.7M157.2 38.2Q161.6 38.7 166.1 39.3M166.1 39.3Q170.0 31.4 168.9 22.5M122.7 56.0Q119.8 49.9 122.4 43.7M111.1 37.4Q106.9 38.0 102.9 36.6M110.0 58.9Q113.8 58.9 116.7 61.5M118.5 64.9Q117.7 63.1 116.7 61.5M121.9 26.8Q122.1 23.0 121.4 19.2M87.9 193.2Q89.6 190.8 92.5 190.8M92.5 190.8Q93.7 190.1 95.0 190.3M95.0 190.3Q99.5 190.2 103.3 192.8M184.3 160.6Q189.5 163.5 193.8 167.7M190.1 184.1Q189.6 182.9 189.6 181.7M143.9 209.2Q138.1 210.6 132.1 209.5M107.9 259.1Q111.6 257.9 115.5 258.6M119.8 234.8Q119.8 236.5 119.2 238.0M142.7 240.5Q145.4 245.8 149.9 249.7M152.6 252.3Q151.2 251.1 149.9 249.7M96.1 260.1Q102.1 261.3 108.2 260.4M96.2 245.1Q96.0 239.8 98.5 235.1M98.5 235.1Q101.8 235.7 104.8 234.0M92.2 247.3Q94.1 246.0 96.2 245.1M206.0 30.7Q211.5 27.8 217.6 26.2M105.6 65.1Q97.9 62.8 89.9 64.3M107.9 78.3Q113.5 75.3 119.7 76.5M106.7 82.5Q107.2 80.4 107.9 78.3M82.7 57.5Q85.3 59.0 88.3 59.4M85.1 71.2Q79.1 67.4 72.0 68.3M110.0 199.4Q115.6 195.1 120.0 189.7M136.5 178.5Q134.5 181.4 131.2 182.3M149.2 196.5Q151.2 194.4 154.0 194.2M154.0 194.2Q150.4 189.4 148.9 183.5M123.1 268.3Q127.5 264.1 131.6 259.6M163.2 67.4Q165.9 67.5 167.8 65.6M173.4 81.0Q179.6 75.3 183.0 67.6M186.0 88.1Q187.4 86.7 189.0 85.8M189.0 85.8Q191.1 76.7 187.4 68.1M95.7 173.8Q95.2 168.7 97.7 164.2M109.2 267.0Q112.7 271.1 115.0 276.0M216.0 72.5Q216.8 74.5 216.7 76.6M222.8 82.2Q220.4 78.7 216.7 76.6M182.2 273.2Q181.8 267.8 177.9 264.3M176.5 141.7Q181.9 139.2 187.2 136.4M192.0 130.2Q189.0 132.9 187.2 136.4M87.8 116.5Q85.2 121.2 83.1 126.2M88.8 221.7Q90.9 219.2 92.6 216.3M207.3 129.4Q204.2 131.1 200.8 130.4M166.8 80.5Q169.4 85.2 168.6 90.5M167.8 100.8Q169.2 97.7 170.5 94.6M197.1 100.1Q200.6 100.7 204.1 101.4M189.0 92.9Q188.5 89.9 186.0 88.1M136.3 154.3Q133.9 153.2 131.4 152.6M124.4 127.3Q126.9 130.4 130.7 131.6M121.4 153.4Q119.3 150.8 117.1 148.3M164.5 161.8Q166.5 162.5 167.6 164.2M197.7 150.8Q196.0 151.3 194.1 151.1M219.5 224.8Q227.7 226.5 236.0 225.8M176.0 251.9Q180.3 247.1 183.1 241.3M192.0 246.5Q191.8 251.1 191.3 255.7M116.3 222.0Q113.7 223.6 112.8 226.6M101.3 47.1Q105.8 46.4 109.2 49.3M101.3 47.1Q100.8 41.7 102.9 36.6M101.4 14.8Q105.0 13.4 108.7 13.9M126.4 15.9Q124.2 18.0 121.4 19.2M117.6 207.2Q113.7 203.4 110.0 199.4M160.6 185.1Q158.8 189.3 157.4 193.7M160.6 185.1Q165.1 184.7 169.6 185.1M194.1 244.7Q199.8 252.0 207.3 257.6M225.0 251.1Q219.4 250.9 214.2 248.9M128.6 231.8Q129.1 237.9 131.3 243.7M106.3 243.7Q100.8 243.5 96.5 246.8M180.4 10.0Q184.5 12.1 186.2 16.5M196.7 23.3Q195.9 21.7 196.5 20.0M89.1 67.1Q89.9 65.8 89.9 64.3M119.7 76.5Q119.5 70.6 118.5 64.9M85.1 71.2Q84.8 75.3 86.5 79.1M145.5 66.9Q139.1 67.8 134.7 72.5M109.4 185.3Q113.8 184.4 116.1 180.5M208.2 175.2Q208.9 170.8 212.2 167.8M138.0 255.7Q135.2 258.6 133.2 262.1M217.6 26.2Q218.8 26.1 220.0 26.1M227.1 18.6Q222.6 21.4 220.0 26.1M123.6 269.1Q117.9 270.8 115.0 276.0M194.9 67.9Q196.8 65.8 198.4 63.5" stroke="rgba(45,58,8,.6)" stroke-width="3.0"/>
<path d="M141.6 26.9Q138.2 32.6 140.2 38.9M151.0 43.8Q145.0 42.6 140.2 38.9M154.3 30.8Q148.2 27.5 141.3 26.3M157.2 38.2Q154.8 41.8 151.0 43.8M85.9 12.7Q91.9 16.8 94.7 23.5M82.4 16.2Q84.8 15.2 85.9 12.7M184.9 105.6Q185.1 110.6 182.4 114.8M197.1 100.1Q195.3 103.7 192.9 106.9M174.0 118.1Q172.2 115.2 168.9 114.3M160.8 103.4Q159.3 105.4 159.2 107.8M145.6 111.3Q149.5 109.7 153.3 111.8M167.0 131.0Q165.2 124.4 159.0 121.7M164.5 161.8Q157.0 156.4 154.6 147.6M151.1 170.2Q149.6 167.9 146.8 167.6M151.1 140.9Q151.0 144.8 153.4 147.8M110.3 140.2Q106.7 138.2 102.7 139.3M105.0 106.6Q100.2 101.1 93.3 98.7M146.8 167.6Q142.2 170.7 136.7 171.4M126.1 217.2Q124.3 210.9 119.0 207.1M77.7 247.8Q84.5 250.6 91.3 247.7M82.1 225.4Q89.7 235.1 92.2 247.3M79.6 261.9Q81.0 262.4 82.4 262.9M82.4 262.9Q84.8 257.2 90.7 255.3M217.7 131.9Q212.8 129.4 207.3 129.4M166.8 80.5Q170.0 81.8 173.4 81.0M173.4 81.0Q180.1 82.3 183.5 88.1M130.9 112.7Q138.6 110.6 145.1 115.2M145.5 66.9Q149.7 72.5 150.4 79.6M110.7 146.9Q113.6 149.1 117.1 148.3M81.4 135.9Q81.9 134.8 82.6 133.9M102.7 139.3Q98.3 145.6 92.0 149.8M97.2 155.5Q95.8 151.6 92.0 149.8M167.6 164.2Q169.5 162.5 170.6 160.1M210.3 194.0Q214.5 200.7 214.0 208.6M221.6 214.9Q219.1 219.6 219.5 224.8M176.0 251.9Q172.0 249.6 167.4 250.4M167.4 250.4Q166.0 247.3 163.2 245.4M161.1 237.9Q164.1 237.6 165.9 235.2M200.4 230.6Q195.8 228.2 193.9 223.4M208.2 230.1Q207.0 229.7 206.0 228.9M191.3 255.7Q192.7 257.3 193.4 259.2M125.7 221.9Q125.5 227.4 128.5 231.9M131.3 217.2Q135.0 221.3 140.2 222.9M94.9 213.3Q93.9 214.1 92.6 214.6M109.2 49.3Q111.9 53.9 110.0 58.9M135.0 56.0Q134.0 63.1 130.2 69.3M124.3 31.2Q123.7 28.7 121.9 26.8M112.0 89.8Q114.2 91.3 116.9 91.4M190.2 183.3Q185.0 178.8 180.2 173.8M180.8 192.6Q180.6 194.4 179.7 195.9M172.2 208.4Q173.1 203.8 174.9 199.6M154.4 219.6Q155.0 212.2 154.0 204.8M171.0 174.0Q163.1 177.2 154.6 175.6M92.1 81.3Q90.2 81.4 88.7 82.7M90.1 99.6Q91.3 91.0 88.7 82.7M107.9 259.1Q107.5 263.2 109.2 267.0M107.9 78.3Q105.5 77.0 104.2 74.6M86.5 79.1Q88.2 80.5 88.7 82.7M120.5 75.4Q122.8 77.7 122.6 81.1M211.9 148.3Q210.3 153.2 210.5 158.4M148.9 267.8Q144.9 269.3 142.1 272.4M133.2 262.1Q132.7 260.7 131.6 259.6M182.7 51.2Q175.6 49.7 168.9 52.4M220.9 62.8Q219.6 57.4 221.4 52.2M220.9 62.8Q225.2 65.0 230.1 65.7M203.4 50.2Q205.9 55.5 205.7 61.3M133.3 77.2Q135.5 79.9 139.0 80.4M144.6 94.8Q139.8 90.4 139.4 83.9M89.0 173.9Q92.3 173.4 95.7 173.8M200.3 81.2Q200.2 78.7 200.1 76.2M194.9 67.9Q197.5 72.1 200.1 76.2M195.8 96.3Q200.3 92.0 205.0 87.8M184.4 46.3Q183.7 48.8 181.5 50.3M190.7 31.7Q191.8 36.6 188.9 40.7M165.7 278.6Q165.5 272.1 166.5 265.7M162.3 77.7Q164.9 78.5 166.8 80.5M92.0 149.8Q89.4 149.8 87.7 151.8M161.9 217.4Q164.6 214.8 166.4 211.6M206.0 228.9Q203.1 229.4 200.4 230.6M193.9 223.4Q199.0 218.5 201.1 211.8M188.3 238.4Q192.9 232.2 200.4 230.6M108.7 13.9Q111.7 19.5 109.8 25.4M97.1 22.0Q99.3 26.7 104.1 28.7M77.4 180.0Q82.1 178.1 87.1 178.1M214.2 248.9Q211.8 254.0 207.3 257.6M209.7 6.4Q210.7 11.1 214.0 14.7M190.7 31.7Q184.0 28.3 177.1 31.2M93.1 35.8Q89.3 33.5 88.4 29.2M80.4 39.8Q82.4 42.9 83.9 46.4M103.3 192.8Q106.2 188.9 109.4 185.3M204.9 157.7Q207.8 157.5 210.5 158.4M144.2 181.4Q144.2 183.4 145.7 184.7M221.4 52.2Q218.4 51.1 217.1 48.2M131.9 89.2Q130.2 85.3 128.6 81.3M189.0 85.8Q195.7 86.0 200.3 81.2M188.9 40.7Q186.3 43.2 184.4 46.3M142.9 3.7Q143.9 11.7 143.7 19.8M173.9 104.6Q178.8 104.6 183.5 103.3M153.3 111.8Q155.6 108.9 159.2 107.8M177.0 144.4Q176.2 143.1 176.5 141.7M155.1 93.8Q159.3 97.8 160.8 103.4M134.7 133.3Q132.7 132.4 130.7 131.6M89.8 137.0Q86.6 134.6 82.6 133.9M75.1 167.3Q80.0 165.7 85.2 165.5M202.9 145.2Q201.2 148.8 197.7 150.8M161.9 217.4Q166.2 221.2 168.2 226.4M190.1 184.1Q190.9 192.1 195.1 199.0M195.1 199.0Q195.0 200.7 193.8 202.1M210.4 270.2Q211.1 262.2 205.2 256.8M193.4 259.2Q199.6 259.3 205.2 256.8M161.9 217.4Q157.9 217.5 154.4 219.6M92.9 52.1Q97.7 50.7 101.3 47.1M116.9 91.4Q120.0 92.9 123.0 94.5M174.9 199.6Q177.2 197.7 179.7 195.9M170.7 176.8Q171.0 180.9 170.9 185.0M119.3 246.7Q120.9 247.0 122.4 247.5M149.9 249.7Q146.6 253.5 142.3 256.4M142.3 256.4Q147.9 260.7 148.9 267.8M109.6 240.0Q106.3 237.7 104.8 234.0M119.2 238.0Q114.0 237.4 109.6 240.0M107.5 227.7Q105.1 230.4 104.8 234.0M217.6 26.2Q213.2 21.4 213.8 14.9M87.1 178.1Q88.2 176.0 89.0 173.9M131.4 192.9Q132.8 187.6 131.2 182.3M131.2 182.3Q126.8 179.9 124.3 175.5M120.5 158.9Q114.6 161.4 109.9 165.7M222.2 170.2Q216.9 170.1 212.2 167.8M130.6 192.8Q136.3 192.9 141.9 191.6M182.7 51.2Q188.2 59.6 184.9 69.1M204.4 37.3Q209.7 41.2 216.2 42.2M128.6 81.3Q130.9 79.2 133.3 77.2M208.8 90.0Q206.8 89.1 205.9 87.1M203.4 50.2Q202.4 47.5 199.7 46.6" stroke="rgba(45,58,8,.6)" stroke-width="3.7"/>
<path d="M146.7 65.1Q141.7 61.7 137.7 57.1M135.5 54.7Q133.3 49.3 135.0 43.7M143.7 19.8Q147.7 13.9 154.7 12.3M118.2 126.1Q115.3 124.1 112.5 122.1M167.0 131.0Q165.2 132.8 162.8 133.2M157.4 135.5Q159.5 133.1 162.8 133.2M162.8 133.2Q168.5 138.2 170.5 145.5M87.8 116.5Q91.5 117.2 94.5 119.8M94.5 119.8Q93.5 122.8 93.9 126.0M118.2 126.1Q116.5 134.4 110.3 140.2M83.1 126.2Q78.0 123.7 72.3 124.5M136.3 154.3Q131.3 159.8 131.8 167.3M136.3 154.3Q141.0 155.9 146.0 156.0M125.7 221.9Q121.0 222.0 116.3 222.0M219.9 112.4Q220.5 122.3 217.7 131.9M209.0 112.7Q202.2 113.1 195.4 113.6M168.6 90.5Q169.2 92.7 170.5 94.6M183.5 103.3Q181.1 98.3 176.3 95.4M208.2 111.8Q207.6 108.8 207.7 105.7M207.7 105.7Q205.7 103.7 204.1 101.4M129.3 110.8Q132.2 104.5 132.4 97.6M142.9 100.1Q138.2 96.7 132.4 97.6M155.4 79.3Q152.9 78.6 150.4 79.6M126.6 168.4Q125.0 162.7 120.5 158.9M131.4 152.6Q126.5 153.7 121.4 153.4M89.8 137.0Q89.8 144.6 87.7 151.8M187.2 136.4Q192.9 142.7 194.1 151.1M184.4 159.3Q187.3 152.9 194.1 151.1M170.6 160.1Q177.6 159.3 184.7 158.7M168.2 226.4Q174.0 224.3 179.9 226.1M225.5 200.1Q223.8 207.1 217.1 210.0M207.9 178.0Q213.3 182.2 220.1 180.9M185.7 239.7Q184.4 240.4 183.1 241.3M185.7 239.7Q187.8 244.1 192.0 246.5M190.9 271.8Q195.2 266.1 193.4 259.2M135.8 231.3Q136.9 226.5 140.2 222.9M154.4 219.6Q152.3 222.4 148.8 222.5M166.1 41.2Q172.3 40.1 178.3 38.6M124.8 40.1Q122.9 41.5 122.4 43.7M109.2 49.3Q113.4 46.6 116.7 42.9M104.1 28.7Q104.4 32.4 103.1 35.9M111.1 37.4Q112.9 32.7 113.9 27.7M103.7 198.3Q106.8 199.2 110.0 199.4M189.6 181.7Q192.5 180.4 194.4 177.8M166.0 195.2Q169.8 190.9 169.6 185.1M193.8 202.1Q187.7 196.9 179.7 195.9M190.2 183.3Q186.8 189.3 180.8 192.6M132.1 209.5Q131.3 205.4 127.9 203.0M94.3 99.1Q92.2 99.5 90.1 99.6M207.8 240.2Q200.7 241.6 194.1 244.7M115.5 258.6Q118.5 252.8 122.4 247.5M131.3 243.7Q128.2 247.9 123.1 248.2M142.7 240.5Q139.2 242.7 135.6 244.8M154.9 262.2Q152.3 264.6 152.0 268.2M199.1 23.2Q207.6 20.8 214.0 14.7M196.7 23.3Q197.9 23.2 199.1 23.2M85.1 71.2Q86.6 68.6 89.1 67.1M77.2 34.2Q83.3 33.7 88.4 30.5M92.5 49.8Q90.1 48.0 87.7 46.4M79.6 51.7Q82.3 54.0 82.7 57.5M120.5 75.4Q127.2 74.3 132.6 70.1M120.0 189.7Q119.6 184.4 116.1 180.5M109.9 165.7Q113.3 172.3 118.2 177.8M205.1 173.3Q204.0 169.2 200.4 166.9M210.5 158.4Q211.6 159.8 212.6 161.3M207.9 178.0Q208.0 176.6 208.2 175.2M141.9 191.6Q144.6 188.6 145.7 184.7M123.1 248.2Q125.9 255.0 131.6 259.6M184.9 69.1Q186.1 68.4 187.4 68.1M222.8 82.2Q223.6 89.2 218.7 94.2M97.9 174.3Q101.2 175.1 104.6 175.8M107.6 165.5Q108.7 166.5 109.8 167.5M106.5 155.7Q104.6 160.9 107.6 165.5M97.2 155.5Q96.0 159.8 97.0 164.0M216.7 76.6Q210.5 81.0 205.9 87.1M205.7 61.3Q202.1 62.5 198.4 63.5M200.2 44.0Q195.1 40.5 188.9 40.7M199.7 46.6Q194.8 47.2 191.8 51.2M149.6 62.6Q154.8 58.7 155.1 52.2M189.0 92.9Q192.8 93.8 195.8 96.3M129.3 110.8Q130.5 111.4 130.9 112.7M106.7 82.5Q110.0 85.7 112.0 89.8M222.2 170.2Q220.3 175.4 220.1 180.9M176.3 95.4Q178.6 90.4 183.5 88.1M206.2 186.1Q206.7 182.0 207.9 178.0M163.2 245.4Q163.4 241.3 161.1 237.9M164.2 260.2Q167.7 255.9 167.4 250.4M179.9 226.1Q185.3 231.5 188.3 238.4M185.7 239.7Q187.3 239.6 188.3 238.4M206.0 228.9Q204.4 221.8 203.4 214.6M214.0 208.6Q208.4 211.0 203.4 214.6M112.2 214.2Q103.4 216.3 94.9 213.3M122.7 56.0Q119.0 58.0 116.7 61.5M82.4 16.2Q80.8 18.0 78.3 18.1M180.8 192.6Q174.6 190.4 170.9 185.0M143.9 209.2Q144.4 206.6 143.4 204.3M196.5 20.0Q191.1 19.1 186.2 16.5M104.2 74.6Q104.4 69.8 105.6 65.1M94.7 23.5Q91.9 26.7 88.4 29.2M92.5 49.8Q92.1 55.3 88.3 59.4M87.7 46.4Q85.8 46.0 83.9 46.4M208.2 175.2Q206.5 174.4 205.1 173.3M148.9 183.5Q147.5 184.6 145.7 184.7M221.4 52.2Q226.6 50.8 231.3 48.5M134.7 72.5Q133.7 74.8 133.3 77.2M104.6 175.8Q109.2 172.8 109.8 167.5M107.6 165.5Q102.0 166.6 97.0 164.0M216.0 72.5Q207.9 73.6 200.1 76.2M218.0 64.3Q218.3 68.7 216.0 72.5M160.8 103.4Q164.7 103.1 167.8 100.8M112.5 122.1Q111.2 115.8 108.1 110.1M155.5 125.5Q156.6 122.5 158.1 119.6M155.5 125.5Q154.3 131.0 157.4 135.5M97.4 135.3Q97.7 132.3 99.2 129.7M106.7 82.5Q104.1 83.9 101.7 85.5M85.0 115.4Q89.3 107.0 94.3 99.1M220.1 180.9Q221.6 181.1 222.5 182.3M82.4 262.9Q86.3 268.2 92.5 270.4M218.4 133.4Q218.3 138.8 220.2 143.9M211.9 148.3Q216.9 147.6 220.2 143.9M162.3 77.7Q158.6 77.4 155.4 79.3M126.4 15.9Q128.1 14.2 128.4 11.8M146.7 65.1Q145.8 65.8 145.5 66.9M149.6 62.6Q157.4 62.1 163.2 67.4M84.2 128.5Q83.4 131.2 82.6 133.9M106.5 155.7Q108.3 151.2 110.7 146.9M172.2 208.4Q169.3 209.9 166.4 211.6M206.2 186.1Q207.8 189.3 210.2 191.9M215.7 228.5Q218.4 227.5 219.5 224.8M178.3 257.4Q175.9 255.2 176.0 251.9M154.9 262.2Q159.9 262.6 164.2 260.2M161.1 237.9Q156.8 234.0 151.1 233.1M135.8 231.3Q132.1 230.0 128.6 231.8M87.9 193.2Q85.4 198.2 81.6 202.3M173.4 24.5Q171.2 23.0 168.5 23.5M178.3 38.6Q176.5 35.1 177.1 31.2M92.9 52.1Q97.5 59.7 106.0 61.9M106.0 61.9Q107.6 59.9 110.0 58.9M87.1 178.1Q88.9 184.8 92.5 190.8M205.2 256.8Q206.1 257.5 207.3 257.6M142.3 256.4Q140.3 255.4 138.0 255.7M224.5 11.2Q218.3 10.5 213.8 14.9M104.2 74.6Q99.1 72.1 93.8 74.1M103.1 35.9Q98.1 37.5 93.1 35.8M130.2 69.3Q131.5 69.4 132.6 70.1M124.3 175.5Q121.6 177.5 118.2 177.8M130.6 192.8Q130.8 193.9 130.7 195.0M200.4 166.9Q200.9 161.5 204.9 157.7M156.6 178.0Q153.0 181.1 148.9 183.5M219.9 97.6Q218.9 96.0 218.7 94.2M204.1 101.4Q207.3 96.0 208.8 90.0M220.0 26.1Q222.0 30.7 223.4 35.5M129.9 93.8Q131.7 91.8 131.9 89.2M187.4 68.1Q191.1 67.6 194.9 67.9" stroke="rgba(45,58,8,.6)" stroke-width="4.4"/>
<path d="M135.0 43.7Q137.5 41.1 140.2 38.9M166.5 265.7Q172.4 266.7 177.9 264.3M154.3 30.8Q157.1 24.8 163.5 23.2M101.4 14.8Q99.9 18.8 97.1 22.0M189.0 92.9Q187.1 98.6 185.8 104.5M174.0 118.1Q178.0 115.9 182.4 114.8M118.2 126.1Q121.1 128.0 124.4 127.3M108.1 110.1Q114.2 107.1 121.0 107.5M145.6 111.3Q146.0 113.3 145.1 115.2M135.3 133.3Q139.3 127.9 141.9 121.7M177.0 144.4Q173.6 144.2 170.5 145.5M119.0 207.1Q116.7 211.7 112.2 214.2M116.3 222.0Q112.8 218.9 112.2 214.2M91.3 247.7Q91.6 251.6 90.7 255.3M202.9 145.2Q202.3 137.8 200.8 130.4M151.6 91.6Q152.9 85.2 155.4 79.3M223.7 110.5Q224.2 107.9 226.3 106.4M219.9 97.6Q215.1 103.5 207.7 105.7M97.4 135.3Q93.6 136.3 89.8 137.0M171.0 174.0Q170.5 175.3 170.7 176.8M180.9 212.6Q180.8 217.0 181.3 221.3M181.3 221.3Q180.0 223.6 179.9 226.1M214.0 208.6Q215.5 209.6 217.1 210.0M221.6 214.9Q226.2 214.8 229.9 212.2M217.1 210.0Q219.8 212.0 221.6 214.9M183.1 241.3Q173.2 241.9 165.9 235.2M168.2 226.4Q165.4 230.4 165.9 235.2M180.9 212.6Q186.3 208.1 192.6 204.9M178.3 257.4Q184.5 254.3 191.3 255.7M92.6 216.3Q99.4 222.9 107.5 227.7M157.2 38.2Q161.6 38.7 166.1 39.3M166.1 39.3Q170.0 31.4 168.9 22.5M122.7 56.0Q119.8 49.9 122.4 43.7M111.1 37.4Q106.9 38.0 102.9 36.6M110.0 58.9Q113.8 58.9 116.7 61.5M118.5 64.9Q117.7 63.1 116.7 61.5M121.9 26.8Q122.1 23.0 121.4 19.2M87.9 193.2Q89.6 190.8 92.5 190.8M92.5 190.8Q93.7 190.1 95.0 190.3M95.0 190.3Q99.5 190.2 103.3 192.8M184.3 160.6Q189.5 163.5 193.8 167.7M190.1 184.1Q189.6 182.9 189.6 181.7M143.9 209.2Q138.1 210.6 132.1 209.5M107.9 259.1Q111.6 257.9 115.5 258.6M119.8 234.8Q119.8 236.5 119.2 238.0M142.7 240.5Q145.4 245.8 149.9 249.7M152.6 252.3Q151.2 251.1 149.9 249.7M96.1 260.1Q102.1 261.3 108.2 260.4M96.2 245.1Q96.0 239.8 98.5 235.1M98.5 235.1Q101.8 235.7 104.8 234.0M92.2 247.3Q94.1 246.0 96.2 245.1M206.0 30.7Q211.5 27.8 217.6 26.2M105.6 65.1Q97.9 62.8 89.9 64.3M107.9 78.3Q113.5 75.3 119.7 76.5M106.7 82.5Q107.2 80.4 107.9 78.3M82.7 57.5Q85.3 59.0 88.3 59.4M85.1 71.2Q79.1 67.4 72.0 68.3M110.0 199.4Q115.6 195.1 120.0 189.7M136.5 178.5Q134.5 181.4 131.2 182.3M149.2 196.5Q151.2 194.4 154.0 194.2M154.0 194.2Q150.4 189.4 148.9 183.5M123.1 268.3Q127.5 264.1 131.6 259.6M163.2 67.4Q165.9 67.5 167.8 65.6M173.4 81.0Q179.6 75.3 183.0 67.6M186.0 88.1Q187.4 86.7 189.0 85.8M189.0 85.8Q191.1 76.7 187.4 68.1M95.7 173.8Q95.2 168.7 97.7 164.2M109.2 267.0Q112.7 271.1 115.0 276.0M216.0 72.5Q216.8 74.5 216.7 76.6M222.8 82.2Q220.4 78.7 216.7 76.6" stroke="rgba(166,158,34,.9)" stroke-width="1.6"/>
<path d="M141.6 26.9Q138.2 32.6 140.2 38.9M151.0 43.8Q145.0 42.6 140.2 38.9M154.3 30.8Q148.2 27.5 141.3 26.3M157.2 38.2Q154.8 41.8 151.0 43.8M85.9 12.7Q91.9 16.8 94.7 23.5M82.4 16.2Q84.8 15.2 85.9 12.7M184.9 105.6Q185.1 110.6 182.4 114.8M197.1 100.1Q195.3 103.7 192.9 106.9M174.0 118.1Q172.2 115.2 168.9 114.3M160.8 103.4Q159.3 105.4 159.2 107.8M145.6 111.3Q149.5 109.7 153.3 111.8M167.0 131.0Q165.2 124.4 159.0 121.7M164.5 161.8Q157.0 156.4 154.6 147.6M151.1 170.2Q149.6 167.9 146.8 167.6M151.1 140.9Q151.0 144.8 153.4 147.8M110.3 140.2Q106.7 138.2 102.7 139.3M105.0 106.6Q100.2 101.1 93.3 98.7M146.8 167.6Q142.2 170.7 136.7 171.4M126.1 217.2Q124.3 210.9 119.0 207.1M77.7 247.8Q84.5 250.6 91.3 247.7M82.1 225.4Q89.7 235.1 92.2 247.3M79.6 261.9Q81.0 262.4 82.4 262.9M82.4 262.9Q84.8 257.2 90.7 255.3M217.7 131.9Q212.8 129.4 207.3 129.4M166.8 80.5Q170.0 81.8 173.4 81.0M173.4 81.0Q180.1 82.3 183.5 88.1M130.9 112.7Q138.6 110.6 145.1 115.2M145.5 66.9Q149.7 72.5 150.4 79.6M110.7 146.9Q113.6 149.1 117.1 148.3M81.4 135.9Q81.9 134.8 82.6 133.9M102.7 139.3Q98.3 145.6 92.0 149.8M97.2 155.5Q95.8 151.6 92.0 149.8M167.6 164.2Q169.5 162.5 170.6 160.1M210.3 194.0Q214.5 200.7 214.0 208.6M221.6 214.9Q219.1 219.6 219.5 224.8M176.0 251.9Q172.0 249.6 167.4 250.4M167.4 250.4Q166.0 247.3 163.2 245.4M161.1 237.9Q164.1 237.6 165.9 235.2M200.4 230.6Q195.8 228.2 193.9 223.4M208.2 230.1Q207.0 229.7 206.0 228.9M191.3 255.7Q192.7 257.3 193.4 259.2M125.7 221.9Q125.5 227.4 128.5 231.9M131.3 217.2Q135.0 221.3 140.2 222.9M94.9 213.3Q93.9 214.1 92.6 214.6M109.2 49.3Q111.9 53.9 110.0 58.9M135.0 56.0Q134.0 63.1 130.2 69.3M124.3 31.2Q123.7 28.7 121.9 26.8M112.0 89.8Q114.2 91.3 116.9 91.4M190.2 183.3Q185.0 178.8 180.2 173.8M180.8 192.6Q180.6 194.4 179.7 195.9M172.2 208.4Q173.1 203.8 174.9 199.6M154.4 219.6Q155.0 212.2 154.0 204.8M171.0 174.0Q163.1 177.2 154.6 175.6M92.1 81.3Q90.2 81.4 88.7 82.7M90.1 99.6Q91.3 91.0 88.7 82.7M107.9 259.1Q107.5 263.2 109.2 267.0M107.9 78.3Q105.5 77.0 104.2 74.6M86.5 79.1Q88.2 80.5 88.7 82.7M120.5 75.4Q122.8 77.7 122.6 81.1M211.9 148.3Q210.3 153.2 210.5 158.4M148.9 267.8Q144.9 269.3 142.1 272.4M133.2 262.1Q132.7 260.7 131.6 259.6M182.7 51.2Q175.6 49.7 168.9 52.4M220.9 62.8Q219.6 57.4 221.4 52.2M220.9 62.8Q225.2 65.0 230.1 65.7M203.4 50.2Q205.9 55.5 205.7 61.3M133.3 77.2Q135.5 79.9 139.0 80.4M144.6 94.8Q139.8 90.4 139.4 83.9M89.0 173.9Q92.3 173.4 95.7 173.8M200.3 81.2Q200.2 78.7 200.1 76.2M194.9 67.9Q197.5 72.1 200.1 76.2M195.8 96.3Q200.3 92.0 205.0 87.8M184.4 46.3Q183.7 48.8 181.5 50.3M190.7 31.7Q191.8 36.6 188.9 40.7" stroke="rgba(166,158,34,.9)" stroke-width="2.3"/>
<path d="M146.7 65.1Q141.7 61.7 137.7 57.1M135.5 54.7Q133.3 49.3 135.0 43.7M143.7 19.8Q147.7 13.9 154.7 12.3M118.2 126.1Q115.3 124.1 112.5 122.1M167.0 131.0Q165.2 132.8 162.8 133.2M157.4 135.5Q159.5 133.1 162.8 133.2M162.8 133.2Q168.5 138.2 170.5 145.5M87.8 116.5Q91.5 117.2 94.5 119.8M94.5 119.8Q93.5 122.8 93.9 126.0M118.2 126.1Q116.5 134.4 110.3 140.2M83.1 126.2Q78.0 123.7 72.3 124.5M136.3 154.3Q131.3 159.8 131.8 167.3M136.3 154.3Q141.0 155.9 146.0 156.0M125.7 221.9Q121.0 222.0 116.3 222.0M219.9 112.4Q220.5 122.3 217.7 131.9M209.0 112.7Q202.2 113.1 195.4 113.6M168.6 90.5Q169.2 92.7 170.5 94.6M183.5 103.3Q181.1 98.3 176.3 95.4M208.2 111.8Q207.6 108.8 207.7 105.7M207.7 105.7Q205.7 103.7 204.1 101.4M129.3 110.8Q132.2 104.5 132.4 97.6M142.9 100.1Q138.2 96.7 132.4 97.6M155.4 79.3Q152.9 78.6 150.4 79.6M126.6 168.4Q125.0 162.7 120.5 158.9M131.4 152.6Q126.5 153.7 121.4 153.4M89.8 137.0Q89.8 144.6 87.7 151.8M187.2 136.4Q192.9 142.7 194.1 151.1M184.4 159.3Q187.3 152.9 194.1 151.1M170.6 160.1Q177.6 159.3 184.7 158.7M168.2 226.4Q174.0 224.3 179.9 226.1M225.5 200.1Q223.8 207.1 217.1 210.0M207.9 178.0Q213.3 182.2 220.1 180.9M185.7 239.7Q184.4 240.4 183.1 241.3M185.7 239.7Q187.8 244.1 192.0 246.5M190.9 271.8Q195.2 266.1 193.4 259.2M135.8 231.3Q136.9 226.5 140.2 222.9M154.4 219.6Q152.3 222.4 148.8 222.5M166.1 41.2Q172.3 40.1 178.3 38.6M124.8 40.1Q122.9 41.5 122.4 43.7M109.2 49.3Q113.4 46.6 116.7 42.9M104.1 28.7Q104.4 32.4 103.1 35.9M111.1 37.4Q112.9 32.7 113.9 27.7M103.7 198.3Q106.8 199.2 110.0 199.4M189.6 181.7Q192.5 180.4 194.4 177.8M166.0 195.2Q169.8 190.9 169.6 185.1M193.8 202.1Q187.7 196.9 179.7 195.9M190.2 183.3Q186.8 189.3 180.8 192.6M132.1 209.5Q131.3 205.4 127.9 203.0M94.3 99.1Q92.2 99.5 90.1 99.6M207.8 240.2Q200.7 241.6 194.1 244.7M115.5 258.6Q118.5 252.8 122.4 247.5M131.3 243.7Q128.2 247.9 123.1 248.2M142.7 240.5Q139.2 242.7 135.6 244.8M154.9 262.2Q152.3 264.6 152.0 268.2M199.1 23.2Q207.6 20.8 214.0 14.7M196.7 23.3Q197.9 23.2 199.1 23.2M85.1 71.2Q86.6 68.6 89.1 67.1M77.2 34.2Q83.3 33.7 88.4 30.5M92.5 49.8Q90.1 48.0 87.7 46.4M79.6 51.7Q82.3 54.0 82.7 57.5M120.5 75.4Q127.2 74.3 132.6 70.1M120.0 189.7Q119.6 184.4 116.1 180.5M109.9 165.7Q113.3 172.3 118.2 177.8M205.1 173.3Q204.0 169.2 200.4 166.9M210.5 158.4Q211.6 159.8 212.6 161.3M207.9 178.0Q208.0 176.6 208.2 175.2M141.9 191.6Q144.6 188.6 145.7 184.7M123.1 248.2Q125.9 255.0 131.6 259.6M184.9 69.1Q186.1 68.4 187.4 68.1M222.8 82.2Q223.6 89.2 218.7 94.2M97.9 174.3Q101.2 175.1 104.6 175.8M107.6 165.5Q108.7 166.5 109.8 167.5M106.5 155.7Q104.6 160.9 107.6 165.5M97.2 155.5Q96.0 159.8 97.0 164.0M216.7 76.6Q210.5 81.0 205.9 87.1M205.7 61.3Q202.1 62.5 198.4 63.5M200.2 44.0Q195.1 40.5 188.9 40.7M199.7 46.6Q194.8 47.2 191.8 51.2" stroke="rgba(166,158,34,.9)" stroke-width="3.0"/>
<path d="M182.2 273.2Q181.8 267.8 177.9 264.3M176.5 141.7Q181.9 139.2 187.2 136.4M192.0 130.2Q189.0 132.9 187.2 136.4M87.8 116.5Q85.2 121.2 83.1 126.2M88.8 221.7Q90.9 219.2 92.6 216.3M207.3 129.4Q204.2 131.1 200.8 130.4M166.8 80.5Q169.4 85.2 168.6 90.5M167.8 100.8Q169.2 97.7 170.5 94.6M197.1 100.1Q200.6 100.7 204.1 101.4M189.0 92.9Q188.5 89.9 186.0 88.1M136.3 154.3Q133.9 153.2 131.4 152.6M124.4 127.3Q126.9 130.4 130.7 131.6M121.4 153.4Q119.3 150.8 117.1 148.3M164.5 161.8Q166.5 162.5 167.6 164.2M197.7 150.8Q196.0 151.3 194.1 151.1M219.5 224.8Q227.7 226.5 236.0 225.8M176.0 251.9Q180.3 247.1 183.1 241.3M192.0 246.5Q191.8 251.1 191.3 255.7M116.3 222.0Q113.7 223.6 112.8 226.6M101.3 47.1Q105.8 46.4 109.2 49.3M101.3 47.1Q100.8 41.7 102.9 36.6M101.4 14.8Q105.0 13.4 108.7 13.9M126.4 15.9Q124.2 18.0 121.4 19.2M117.6 207.2Q113.7 203.4 110.0 199.4M160.6 185.1Q158.8 189.3 157.4 193.7M160.6 185.1Q165.1 184.7 169.6 185.1M194.1 244.7Q199.8 252.0 207.3 257.6M225.0 251.1Q219.4 250.9 214.2 248.9M128.6 231.8Q129.1 237.9 131.3 243.7M106.3 243.7Q100.8 243.5 96.5 246.8M180.4 10.0Q184.5 12.1 186.2 16.5M196.7 23.3Q195.9 21.7 196.5 20.0M89.1 67.1Q89.9 65.8 89.9 64.3M119.7 76.5Q119.5 70.6 118.5 64.9M85.1 71.2Q84.8 75.3 86.5 79.1M145.5 66.9Q139.1 67.8 134.7 72.5M109.4 185.3Q113.8 184.4 116.1 180.5M208.2 175.2Q208.9 170.8 212.2 167.8M138.0 255.7Q135.2 258.6 133.2 262.1M217.6 26.2Q218.8 26.1 220.0 26.1M227.1 18.6Q222.6 21.4 220.0 26.1M123.6 269.1Q117.9 270.8 115.0 276.0M194.9 67.9Q196.8 65.8 198.4 63.5" stroke="rgba(204,132,32,.9)" stroke-width="1.6"/>
<path d="M142.9 3.7Q143.9 11.7 143.7 19.8M173.9 104.6Q178.8 104.6 183.5 103.3M153.3 111.8Q155.6 108.9 159.2 107.8M177.0 144.4Q176.2 143.1 176.5 141.7M155.1 93.8Q159.3 97.8 160.8 103.4M134.7 133.3Q132.7 132.4 130.7 131.6M89.8 137.0Q86.6 134.6 82.6 133.9M75.1 167.3Q80.0 165.7 85.2 165.5M202.9 145.2Q201.2 148.8 197.7 150.8M161.9 217.4Q166.2 221.2 168.2 226.4M190.1 184.1Q190.9 192.1 195.1 199.0M195.1 199.0Q195.0 200.7 193.8 202.1M210.4 270.2Q211.1 262.2 205.2 256.8M193.4 259.2Q199.6 259.3 205.2 256.8M161.9 217.4Q157.9 217.5 154.4 219.6M92.9 52.1Q97.7 50.7 101.3 47.1M116.9 91.4Q120.0 92.9 123.0 94.5M174.9 199.6Q177.2 197.7 179.7 195.9M170.7 176.8Q171.0 180.9 170.9 185.0M119.3 246.7Q120.9 247.0 122.4 247.5M149.9 249.7Q146.6 253.5 142.3 256.4M142.3 256.4Q147.9 260.7 148.9 267.8M109.6 240.0Q106.3 237.7 104.8 234.0M119.2 238.0Q114.0 237.4 109.6 240.0M107.5 227.7Q105.1 230.4 104.8 234.0M217.6 26.2Q213.2 21.4 213.8 14.9M87.1 178.1Q88.2 176.0 89.0 173.9M131.4 192.9Q132.8 187.6 131.2 182.3M131.2 182.3Q126.8 179.9 124.3 175.5M120.5 158.9Q114.6 161.4 109.9 165.7M222.2 170.2Q216.9 170.1 212.2 167.8M130.6 192.8Q136.3 192.9 141.9 191.6M182.7 51.2Q188.2 59.6 184.9 69.1M204.4 37.3Q209.7 41.2 216.2 42.2M128.6 81.3Q130.9 79.2 133.3 77.2M208.8 90.0Q206.8 89.1 205.9 87.1M203.4 50.2Q202.4 47.5 199.7 46.6" stroke="rgba(204,132,32,.9)" stroke-width="2.3"/>
<path d="M160.8 103.4Q164.7 103.1 167.8 100.8M112.5 122.1Q111.2 115.8 108.1 110.1M155.5 125.5Q156.6 122.5 158.1 119.6M155.5 125.5Q154.3 131.0 157.4 135.5M97.4 135.3Q97.7 132.3 99.2 129.7M106.7 82.5Q104.1 83.9 101.7 85.5M85.0 115.4Q89.3 107.0 94.3 99.1M220.1 180.9Q221.6 181.1 222.5 182.3M82.4 262.9Q86.3 268.2 92.5 270.4M218.4 133.4Q218.3 138.8 220.2 143.9M211.9 148.3Q216.9 147.6 220.2 143.9M162.3 77.7Q158.6 77.4 155.4 79.3M126.4 15.9Q128.1 14.2 128.4 11.8M146.7 65.1Q145.8 65.8 145.5 66.9M149.6 62.6Q157.4 62.1 163.2 67.4M84.2 128.5Q83.4 131.2 82.6 133.9M106.5 155.7Q108.3 151.2 110.7 146.9M172.2 208.4Q169.3 209.9 166.4 211.6M206.2 186.1Q207.8 189.3 210.2 191.9M215.7 228.5Q218.4 227.5 219.5 224.8M178.3 257.4Q175.9 255.2 176.0 251.9M154.9 262.2Q159.9 262.6 164.2 260.2M161.1 237.9Q156.8 234.0 151.1 233.1M135.8 231.3Q132.1 230.0 128.6 231.8M87.9 193.2Q85.4 198.2 81.6 202.3M173.4 24.5Q171.2 23.0 168.5 23.5M178.3 38.6Q176.5 35.1 177.1 31.2M92.9 52.1Q97.5 59.7 106.0 61.9M106.0 61.9Q107.6 59.9 110.0 58.9M87.1 178.1Q88.9 184.8 92.5 190.8M205.2 256.8Q206.1 257.5 207.3 257.6M142.3 256.4Q140.3 255.4 138.0 255.7M224.5 11.2Q218.3 10.5 213.8 14.9M104.2 74.6Q99.1 72.1 93.8 74.1M103.1 35.9Q98.1 37.5 93.1 35.8M130.2 69.3Q131.5 69.4 132.6 70.1M124.3 175.5Q121.6 177.5 118.2 177.8M130.6 192.8Q130.8 193.9 130.7 195.0M200.4 166.9Q200.9 161.5 204.9 157.7M156.6 178.0Q153.0 181.1 148.9 183.5M219.9 97.6Q218.9 96.0 218.7 94.2M204.1 101.4Q207.3 96.0 208.8 90.0M220.0 26.1Q222.0 30.7 223.4 35.5M129.9 93.8Q131.7 91.8 131.9 89.2M187.4 68.1Q191.1 67.6 194.9 67.9" stroke="rgba(204,132,32,.9)" stroke-width="3.0"/>
<path d="M146.7 65.1Q148.4 64.2 149.6 62.6M173.9 104.6Q170.9 102.6 167.8 100.8M174.0 118.1Q170.3 121.9 171.1 127.2M191.5 123.3Q190.8 127.0 193.1 129.9M169.6 145.6Q162.4 148.6 154.6 147.6M102.7 139.3Q99.8 137.7 97.4 135.3M82.1 225.4Q85.0 222.8 88.8 221.7M143.3 20.8Q134.4 20.0 126.4 15.9M131.4 152.6Q135.8 143.4 134.7 133.3M120.5 158.9Q121.8 156.3 121.4 153.4M85.2 165.5Q89.1 158.2 88.2 150.0M106.5 155.7Q101.9 153.3 97.2 155.5M180.2 173.8Q174.9 173.5 170.7 176.8M219.5 191.0Q214.6 189.2 210.2 191.9M215.7 228.5Q211.7 227.8 208.2 230.1M192.6 204.9Q196.0 209.4 201.1 211.8M135.0 56.0Q128.9 58.3 122.7 56.0M113.9 27.7Q117.9 27.2 121.9 26.8M132.4 97.6Q131.4 95.6 129.9 93.8M161.9 196.4Q161.3 200.1 161.1 203.9M119.3 246.7Q117.3 242.4 119.2 238.0M107.9 257.8Q102.9 251.6 96.5 246.8M118.2 177.8Q117.1 179.1 116.1 180.5M142.1 272.4Q140.2 265.0 133.2 262.1M167.8 65.6Q170.5 60.0 168.4 54.1M183.0 67.6Q184.3 68.0 184.9 69.1M155.1 52.2Q162.1 50.5 168.4 54.1M200.3 81.2Q201.1 85.6 205.0 87.8M204.4 37.3Q203.3 41.2 200.2 44.0" stroke="rgba(36,150,26,.9)" stroke-width="1.6"/>
<path d="M165.7 278.6Q165.5 272.1 166.5 265.7M162.3 77.7Q164.9 78.5 166.8 80.5M92.0 149.8Q89.4 149.8 87.7 151.8M161.9 217.4Q164.6 214.8 166.4 211.6M206.0 228.9Q203.1 229.4 200.4 230.6M193.9 223.4Q199.0 218.5 201.1 211.8M188.3 238.4Q192.9 232.2 200.4 230.6M108.7 13.9Q111.7 19.5 109.8 25.4M97.1 22.0Q99.3 26.7 104.1 28.7M77.4 180.0Q82.1 178.1 87.1 178.1M214.2 248.9Q211.8 254.0 207.3 257.6M209.7 6.4Q210.7 11.1 214.0 14.7M190.7 31.7Q184.0 28.3 177.1 31.2M93.1 35.8Q89.3 33.5 88.4 29.2M80.4 39.8Q82.4 42.9 83.9 46.4M103.3 192.8Q106.2 188.9 109.4 185.3M204.9 157.7Q207.8 157.5 210.5 158.4M144.2 181.4Q144.2 183.4 145.7 184.7M221.4 52.2Q218.4 51.1 217.1 48.2M131.9 89.2Q130.2 85.3 128.6 81.3M189.0 85.8Q195.7 86.0 200.3 81.2M188.9 40.7Q186.3 43.2 184.4 46.3" stroke="rgba(36,150,26,.9)" stroke-width="2.3"/>
<path d="M149.6 62.6Q154.8 58.7 155.1 52.2M189.0 92.9Q192.8 93.8 195.8 96.3M129.3 110.8Q130.5 111.4 130.9 112.7M106.7 82.5Q110.0 85.7 112.0 89.8M222.2 170.2Q220.3 175.4 220.1 180.9M176.3 95.4Q178.6 90.4 183.5 88.1M206.2 186.1Q206.7 182.0 207.9 178.0M163.2 245.4Q163.4 241.3 161.1 237.9M164.2 260.2Q167.7 255.9 167.4 250.4M179.9 226.1Q185.3 231.5 188.3 238.4M185.7 239.7Q187.3 239.6 188.3 238.4M206.0 228.9Q204.4 221.8 203.4 214.6M214.0 208.6Q208.4 211.0 203.4 214.6M112.2 214.2Q103.4 216.3 94.9 213.3M122.7 56.0Q119.0 58.0 116.7 61.5M82.4 16.2Q80.8 18.0 78.3 18.1M180.8 192.6Q174.6 190.4 170.9 185.0M143.9 209.2Q144.4 206.6 143.4 204.3M196.5 20.0Q191.1 19.1 186.2 16.5M104.2 74.6Q104.4 69.8 105.6 65.1M94.7 23.5Q91.9 26.7 88.4 29.2M92.5 49.8Q92.1 55.3 88.3 59.4M87.7 46.4Q85.8 46.0 83.9 46.4M208.2 175.2Q206.5 174.4 205.1 173.3M148.9 183.5Q147.5 184.6 145.7 184.7M221.4 52.2Q226.6 50.8 231.3 48.5M134.7 72.5Q133.7 74.8 133.3 77.2M104.6 175.8Q109.2 172.8 109.8 167.5M107.6 165.5Q102.0 166.6 97.0 164.0M216.0 72.5Q207.9 73.6 200.1 76.2M218.0 64.3Q218.3 68.7 216.0 72.5" stroke="rgba(36,150,26,.9)" stroke-width="3.0"/>
<path d="M135.0 43.7Q137.5 41.1 140.2 38.9M166.5 265.7Q172.4 266.7 177.9 264.3M154.3 30.8Q157.1 24.8 163.5 23.2M101.4 14.8Q99.9 18.8 97.1 22.0M189.0 92.9Q187.1 98.6 185.8 104.5M174.0 118.1Q178.0 115.9 182.4 114.8M118.2 126.1Q121.1 128.0 124.4 127.3M108.1 110.1Q114.2 107.1 121.0 107.5M145.6 111.3Q146.0 113.3 145.1 115.2M135.3 133.3Q139.3 127.9 141.9 121.7M177.0 144.4Q173.6 144.2 170.5 145.5M119.0 207.1Q116.7 211.7 112.2 214.2M116.3 222.0Q112.8 218.9 112.2 214.2M91.3 247.7Q91.6 251.6 90.7 255.3M202.9 145.2Q202.3 137.8 200.8 130.4M151.6 91.6Q152.9 85.2 155.4 79.3M223.7 110.5Q224.2 107.9 226.3 106.4M219.9 97.6Q215.1 103.5 207.7 105.7M97.4 135.3Q93.6 136.3 89.8 137.0M171.0 174.0Q170.5 175.3 170.7 176.8M180.9 212.6Q180.8 217.0 181.3 221.3M181.3 221.3Q180.0 223.6 179.9 226.1M214.0 208.6Q215.5 209.6 217.1 210.0M221.6 214.9Q226.2 214.8 229.9 212.2M217.1 210.0Q219.8 212.0 221.6 214.9M183.1 241.3Q173.2 241.9 165.9 235.2M168.2 226.4Q165.4 230.4 165.9 235.2M180.9 212.6Q186.3 208.1 192.6 204.9M178.3 257.4Q184.5 254.3 191.3 255.7M92.6 216.3Q99.4 222.9 107.5 227.7M157.2 38.2Q161.6 38.7 166.1 39.3M166.1 39.3Q170.0 31.4 168.9 22.5M122.7 56.0Q119.8 49.9 122.4 43.7M111.1 37.4Q106.9 38.0 102.9 36.6M110.0 58.9Q113.8 58.9 116.7 61.5M118.5 64.9Q117.7 63.1 116.7 61.5M121.9 26.8Q122.1 23.0 121.4 19.2M87.9 193.2Q89.6 190.8 92.5 190.8M92.5 190.8Q93.7 190.1 95.0 190.3M95.0 190.3Q99.5 190.2 103.3 192.8M184.3 160.6Q189.5 163.5 193.8 167.7M190.1 184.1Q189.6 182.9 189.6 181.7M143.9 209.2Q138.1 210.6 132.1 209.5M107.9 259.1Q111.6 257.9 115.5 258.6M119.8 234.8Q119.8 236.5 119.2 238.0M142.7 240.5Q145.4 245.8 149.9 249.7M152.6 252.3Q151.2 251.1 149.9 249.7M96.1 260.1Q102.1 261.3 108.2 260.4M96.2 245.1Q96.0 239.8 98.5 235.1M98.5 235.1Q101.8 235.7 104.8 234.0M92.2 247.3Q94.1 246.0 96.2 245.1M206.0 30.7Q211.5 27.8 217.6 26.2M105.6 65.1Q97.9 62.8 89.9 64.3M107.9 78.3Q113.5 75.3 119.7 76.5M106.7 82.5Q107.2 80.4 107.9 78.3M82.7 57.5Q85.3 59.0 88.3 59.4M85.1 71.2Q79.1 67.4 72.0 68.3M110.0 199.4Q115.6 195.1 120.0 189.7M136.5 178.5Q134.5 181.4 131.2 182.3M149.2 196.5Q151.2 194.4 154.0 194.2M154.0 194.2Q150.4 189.4 148.9 183.5M123.1 268.3Q127.5 264.1 131.6 259.6M163.2 67.4Q165.9 67.5 167.8 65.6M173.4 81.0Q179.6 75.3 183.0 67.6M186.0 88.1Q187.4 86.7 189.0 85.8M189.0 85.8Q191.1 76.7 187.4 68.1M95.7 173.8Q95.2 168.7 97.7 164.2M109.2 267.0Q112.7 271.1 115.0 276.0M216.0 72.5Q216.8 74.5 216.7 76.6M222.8 82.2Q220.4 78.7 216.7 76.6" stroke="rgba(194,186,54,.8)" stroke-width="0.5"/>
<path d="M141.6 26.9Q138.2 32.6 140.2 38.9M151.0 43.8Q145.0 42.6 140.2 38.9M154.3 30.8Q148.2 27.5 141.3 26.3M157.2 38.2Q154.8 41.8 151.0 43.8M85.9 12.7Q91.9 16.8 94.7 23.5M82.4 16.2Q84.8 15.2 85.9 12.7M184.9 105.6Q185.1 110.6 182.4 114.8M197.1 100.1Q195.3 103.7 192.9 106.9M174.0 118.1Q172.2 115.2 168.9 114.3M160.8 103.4Q159.3 105.4 159.2 107.8M145.6 111.3Q149.5 109.7 153.3 111.8M167.0 131.0Q165.2 124.4 159.0 121.7M164.5 161.8Q157.0 156.4 154.6 147.6M151.1 170.2Q149.6 167.9 146.8 167.6M151.1 140.9Q151.0 144.8 153.4 147.8M110.3 140.2Q106.7 138.2 102.7 139.3M105.0 106.6Q100.2 101.1 93.3 98.7M146.8 167.6Q142.2 170.7 136.7 171.4M126.1 217.2Q124.3 210.9 119.0 207.1M77.7 247.8Q84.5 250.6 91.3 247.7M82.1 225.4Q89.7 235.1 92.2 247.3M79.6 261.9Q81.0 262.4 82.4 262.9M82.4 262.9Q84.8 257.2 90.7 255.3M217.7 131.9Q212.8 129.4 207.3 129.4M166.8 80.5Q170.0 81.8 173.4 81.0M173.4 81.0Q180.1 82.3 183.5 88.1M130.9 112.7Q138.6 110.6 145.1 115.2M145.5 66.9Q149.7 72.5 150.4 79.6M110.7 146.9Q113.6 149.1 117.1 148.3M81.4 135.9Q81.9 134.8 82.6 133.9M102.7 139.3Q98.3 145.6 92.0 149.8M97.2 155.5Q95.8 151.6 92.0 149.8M167.6 164.2Q169.5 162.5 170.6 160.1M210.3 194.0Q214.5 200.7 214.0 208.6M221.6 214.9Q219.1 219.6 219.5 224.8M176.0 251.9Q172.0 249.6 167.4 250.4M167.4 250.4Q166.0 247.3 163.2 245.4M161.1 237.9Q164.1 237.6 165.9 235.2M200.4 230.6Q195.8 228.2 193.9 223.4M208.2 230.1Q207.0 229.7 206.0 228.9M191.3 255.7Q192.7 257.3 193.4 259.2M125.7 221.9Q125.5 227.4 128.5 231.9M131.3 217.2Q135.0 221.3 140.2 222.9M94.9 213.3Q93.9 214.1 92.6 214.6M109.2 49.3Q111.9 53.9 110.0 58.9M135.0 56.0Q134.0 63.1 130.2 69.3M124.3 31.2Q123.7 28.7 121.9 26.8M112.0 89.8Q114.2 91.3 116.9 91.4M190.2 183.3Q185.0 178.8 180.2 173.8M180.8 192.6Q180.6 194.4 179.7 195.9M172.2 208.4Q173.1 203.8 174.9 199.6M154.4 219.6Q155.0 212.2 154.0 204.8M171.0 174.0Q163.1 177.2 154.6 175.6M92.1 81.3Q90.2 81.4 88.7 82.7M90.1 99.6Q91.3 91.0 88.7 82.7M107.9 259.1Q107.5 263.2 109.2 267.0M107.9 78.3Q105.5 77.0 104.2 74.6M86.5 79.1Q88.2 80.5 88.7 82.7M120.5 75.4Q122.8 77.7 122.6 81.1M211.9 148.3Q210.3 153.2 210.5 158.4M148.9 267.8Q144.9 269.3 142.1 272.4M133.2 262.1Q132.7 260.7 131.6 259.6M182.7 51.2Q175.6 49.7 168.9 52.4M220.9 62.8Q219.6 57.4 221.4 52.2M220.9 62.8Q225.2 65.0 230.1 65.7M203.4 50.2Q205.9 55.5 205.7 61.3M133.3 77.2Q135.5 79.9 139.0 80.4M144.6 94.8Q139.8 90.4 139.4 83.9M89.0 173.9Q92.3 173.4 95.7 173.8M200.3 81.2Q200.2 78.7 200.1 76.2M194.9 67.9Q197.5 72.1 200.1 76.2M195.8 96.3Q200.3 92.0 205.0 87.8M184.4 46.3Q183.7 48.8 181.5 50.3M190.7 31.7Q191.8 36.6 188.9 40.7" stroke="rgba(194,186,54,.8)" stroke-width="0.8"/>
<path d="M146.7 65.1Q141.7 61.7 137.7 57.1M135.5 54.7Q133.3 49.3 135.0 43.7M143.7 19.8Q147.7 13.9 154.7 12.3M118.2 126.1Q115.3 124.1 112.5 122.1M167.0 131.0Q165.2 132.8 162.8 133.2M157.4 135.5Q159.5 133.1 162.8 133.2M162.8 133.2Q168.5 138.2 170.5 145.5M87.8 116.5Q91.5 117.2 94.5 119.8M94.5 119.8Q93.5 122.8 93.9 126.0M118.2 126.1Q116.5 134.4 110.3 140.2M83.1 126.2Q78.0 123.7 72.3 124.5M136.3 154.3Q131.3 159.8 131.8 167.3M136.3 154.3Q141.0 155.9 146.0 156.0M125.7 221.9Q121.0 222.0 116.3 222.0M219.9 112.4Q220.5 122.3 217.7 131.9M209.0 112.7Q202.2 113.1 195.4 113.6M168.6 90.5Q169.2 92.7 170.5 94.6M183.5 103.3Q181.1 98.3 176.3 95.4M208.2 111.8Q207.6 108.8 207.7 105.7M207.7 105.7Q205.7 103.7 204.1 101.4M129.3 110.8Q132.2 104.5 132.4 97.6M142.9 100.1Q138.2 96.7 132.4 97.6M155.4 79.3Q152.9 78.6 150.4 79.6M126.6 168.4Q125.0 162.7 120.5 158.9M131.4 152.6Q126.5 153.7 121.4 153.4M89.8 137.0Q89.8 144.6 87.7 151.8M187.2 136.4Q192.9 142.7 194.1 151.1M184.4 159.3Q187.3 152.9 194.1 151.1M170.6 160.1Q177.6 159.3 184.7 158.7M168.2 226.4Q174.0 224.3 179.9 226.1M225.5 200.1Q223.8 207.1 217.1 210.0M207.9 178.0Q213.3 182.2 220.1 180.9M185.7 239.7Q184.4 240.4 183.1 241.3M185.7 239.7Q187.8 244.1 192.0 246.5M190.9 271.8Q195.2 266.1 193.4 259.2M135.8 231.3Q136.9 226.5 140.2 222.9M154.4 219.6Q152.3 222.4 148.8 222.5M166.1 41.2Q172.3 40.1 178.3 38.6M124.8 40.1Q122.9 41.5 122.4 43.7M109.2 49.3Q113.4 46.6 116.7 42.9M104.1 28.7Q104.4 32.4 103.1 35.9M111.1 37.4Q112.9 32.7 113.9 27.7M103.7 198.3Q106.8 199.2 110.0 199.4M189.6 181.7Q192.5 180.4 194.4 177.8M166.0 195.2Q169.8 190.9 169.6 185.1M193.8 202.1Q187.7 196.9 179.7 195.9M190.2 183.3Q186.8 189.3 180.8 192.6M132.1 209.5Q131.3 205.4 127.9 203.0M94.3 99.1Q92.2 99.5 90.1 99.6M207.8 240.2Q200.7 241.6 194.1 244.7M115.5 258.6Q118.5 252.8 122.4 247.5M131.3 243.7Q128.2 247.9 123.1 248.2M142.7 240.5Q139.2 242.7 135.6 244.8M154.9 262.2Q152.3 264.6 152.0 268.2M199.1 23.2Q207.6 20.8 214.0 14.7M196.7 23.3Q197.9 23.2 199.1 23.2M85.1 71.2Q86.6 68.6 89.1 67.1M77.2 34.2Q83.3 33.7 88.4 30.5M92.5 49.8Q90.1 48.0 87.7 46.4M79.6 51.7Q82.3 54.0 82.7 57.5M120.5 75.4Q127.2 74.3 132.6 70.1M120.0 189.7Q119.6 184.4 116.1 180.5M109.9 165.7Q113.3 172.3 118.2 177.8M205.1 173.3Q204.0 169.2 200.4 166.9M210.5 158.4Q211.6 159.8 212.6 161.3M207.9 178.0Q208.0 176.6 208.2 175.2M141.9 191.6Q144.6 188.6 145.7 184.7M123.1 248.2Q125.9 255.0 131.6 259.6M184.9 69.1Q186.1 68.4 187.4 68.1M222.8 82.2Q223.6 89.2 218.7 94.2M97.9 174.3Q101.2 175.1 104.6 175.8M107.6 165.5Q108.7 166.5 109.8 167.5M106.5 155.7Q104.6 160.9 107.6 165.5M97.2 155.5Q96.0 159.8 97.0 164.0M216.7 76.6Q210.5 81.0 205.9 87.1M205.7 61.3Q202.1 62.5 198.4 63.5M200.2 44.0Q195.1 40.5 188.9 40.7M199.7 46.6Q194.8 47.2 191.8 51.2" stroke="rgba(194,186,54,.8)" stroke-width="1.0"/>
<path d="M182.2 273.2Q181.8 267.8 177.9 264.3M176.5 141.7Q181.9 139.2 187.2 136.4M192.0 130.2Q189.0 132.9 187.2 136.4M87.8 116.5Q85.2 121.2 83.1 126.2M88.8 221.7Q90.9 219.2 92.6 216.3M207.3 129.4Q204.2 131.1 200.8 130.4M166.8 80.5Q169.4 85.2 168.6 90.5M167.8 100.8Q169.2 97.7 170.5 94.6M197.1 100.1Q200.6 100.7 204.1 101.4M189.0 92.9Q188.5 89.9 186.0 88.1M136.3 154.3Q133.9 153.2 131.4 152.6M124.4 127.3Q126.9 130.4 130.7 131.6M121.4 153.4Q119.3 150.8 117.1 148.3M164.5 161.8Q166.5 162.5 167.6 164.2M197.7 150.8Q196.0 151.3 194.1 151.1M219.5 224.8Q227.7 226.5 236.0 225.8M176.0 251.9Q180.3 247.1 183.1 241.3M192.0 246.5Q191.8 251.1 191.3 255.7M116.3 222.0Q113.7 223.6 112.8 226.6M101.3 47.1Q105.8 46.4 109.2 49.3M101.3 47.1Q100.8 41.7 102.9 36.6M101.4 14.8Q105.0 13.4 108.7 13.9M126.4 15.9Q124.2 18.0 121.4 19.2M117.6 207.2Q113.7 203.4 110.0 199.4M160.6 185.1Q158.8 189.3 157.4 193.7M160.6 185.1Q165.1 184.7 169.6 185.1M194.1 244.7Q199.8 252.0 207.3 257.6M225.0 251.1Q219.4 250.9 214.2 248.9M128.6 231.8Q129.1 237.9 131.3 243.7M106.3 243.7Q100.8 243.5 96.5 246.8M180.4 10.0Q184.5 12.1 186.2 16.5M196.7 23.3Q195.9 21.7 196.5 20.0M89.1 67.1Q89.9 65.8 89.9 64.3M119.7 76.5Q119.5 70.6 118.5 64.9M85.1 71.2Q84.8 75.3 86.5 79.1M145.5 66.9Q139.1 67.8 134.7 72.5M109.4 185.3Q113.8 184.4 116.1 180.5M208.2 175.2Q208.9 170.8 212.2 167.8M138.0 255.7Q135.2 258.6 133.2 262.1M217.6 26.2Q218.8 26.1 220.0 26.1M227.1 18.6Q222.6 21.4 220.0 26.1M123.6 269.1Q117.9 270.8 115.0 276.0M194.9 67.9Q196.8 65.8 198.4 63.5" stroke="rgba(218,160,50,.8)" stroke-width="0.5"/>
<path d="M142.9 3.7Q143.9 11.7 143.7 19.8M173.9 104.6Q178.8 104.6 183.5 103.3M153.3 111.8Q155.6 108.9 159.2 107.8M177.0 144.4Q176.2 143.1 176.5 141.7M155.1 93.8Q159.3 97.8 160.8 103.4M134.7 133.3Q132.7 132.4 130.7 131.6M89.8 137.0Q86.6 134.6 82.6 133.9M75.1 167.3Q80.0 165.7 85.2 165.5M202.9 145.2Q201.2 148.8 197.7 150.8M161.9 217.4Q166.2 221.2 168.2 226.4M190.1 184.1Q190.9 192.1 195.1 199.0M195.1 199.0Q195.0 200.7 193.8 202.1M210.4 270.2Q211.1 262.2 205.2 256.8M193.4 259.2Q199.6 259.3 205.2 256.8M161.9 217.4Q157.9 217.5 154.4 219.6M92.9 52.1Q97.7 50.7 101.3 47.1M116.9 91.4Q120.0 92.9 123.0 94.5M174.9 199.6Q177.2 197.7 179.7 195.9M170.7 176.8Q171.0 180.9 170.9 185.0M119.3 246.7Q120.9 247.0 122.4 247.5M149.9 249.7Q146.6 253.5 142.3 256.4M142.3 256.4Q147.9 260.7 148.9 267.8M109.6 240.0Q106.3 237.7 104.8 234.0M119.2 238.0Q114.0 237.4 109.6 240.0M107.5 227.7Q105.1 230.4 104.8 234.0M217.6 26.2Q213.2 21.4 213.8 14.9M87.1 178.1Q88.2 176.0 89.0 173.9M131.4 192.9Q132.8 187.6 131.2 182.3M131.2 182.3Q126.8 179.9 124.3 175.5M120.5 158.9Q114.6 161.4 109.9 165.7M222.2 170.2Q216.9 170.1 212.2 167.8M130.6 192.8Q136.3 192.9 141.9 191.6M182.7 51.2Q188.2 59.6 184.9 69.1M204.4 37.3Q209.7 41.2 216.2 42.2M128.6 81.3Q130.9 79.2 133.3 77.2M208.8 90.0Q206.8 89.1 205.9 87.1M203.4 50.2Q202.4 47.5 199.7 46.6" stroke="rgba(218,160,50,.8)" stroke-width="0.8"/>
<path d="M160.8 103.4Q164.7 103.1 167.8 100.8M112.5 122.1Q111.2 115.8 108.1 110.1M155.5 125.5Q156.6 122.5 158.1 119.6M155.5 125.5Q154.3 131.0 157.4 135.5M97.4 135.3Q97.7 132.3 99.2 129.7M106.7 82.5Q104.1 83.9 101.7 85.5M85.0 115.4Q89.3 107.0 94.3 99.1M220.1 180.9Q221.6 181.1 222.5 182.3M82.4 262.9Q86.3 268.2 92.5 270.4M218.4 133.4Q218.3 138.8 220.2 143.9M211.9 148.3Q216.9 147.6 220.2 143.9M162.3 77.7Q158.6 77.4 155.4 79.3M126.4 15.9Q128.1 14.2 128.4 11.8M146.7 65.1Q145.8 65.8 145.5 66.9M149.6 62.6Q157.4 62.1 163.2 67.4M84.2 128.5Q83.4 131.2 82.6 133.9M106.5 155.7Q108.3 151.2 110.7 146.9M172.2 208.4Q169.3 209.9 166.4 211.6M206.2 186.1Q207.8 189.3 210.2 191.9M215.7 228.5Q218.4 227.5 219.5 224.8M178.3 257.4Q175.9 255.2 176.0 251.9M154.9 262.2Q159.9 262.6 164.2 260.2M161.1 237.9Q156.8 234.0 151.1 233.1M135.8 231.3Q132.1 230.0 128.6 231.8M87.9 193.2Q85.4 198.2 81.6 202.3M173.4 24.5Q171.2 23.0 168.5 23.5M178.3 38.6Q176.5 35.1 177.1 31.2M92.9 52.1Q97.5 59.7 106.0 61.9M106.0 61.9Q107.6 59.9 110.0 58.9M87.1 178.1Q88.9 184.8 92.5 190.8M205.2 256.8Q206.1 257.5 207.3 257.6M142.3 256.4Q140.3 255.4 138.0 255.7M224.5 11.2Q218.3 10.5 213.8 14.9M104.2 74.6Q99.1 72.1 93.8 74.1M103.1 35.9Q98.1 37.5 93.1 35.8M130.2 69.3Q131.5 69.4 132.6 70.1M124.3 175.5Q121.6 177.5 118.2 177.8M130.6 192.8Q130.8 193.9 130.7 195.0M200.4 166.9Q200.9 161.5 204.9 157.7M156.6 178.0Q153.0 181.1 148.9 183.5M219.9 97.6Q218.9 96.0 218.7 94.2M204.1 101.4Q207.3 96.0 208.8 90.0M220.0 26.1Q222.0 30.7 223.4 35.5M129.9 93.8Q131.7 91.8 131.9 89.2M187.4 68.1Q191.1 67.6 194.9 67.9" stroke="rgba(218,160,50,.8)" stroke-width="1.0"/>
<path d="M146.7 65.1Q148.4 64.2 149.6 62.6M173.9 104.6Q170.9 102.6 167.8 100.8M174.0 118.1Q170.3 121.9 171.1 127.2M191.5 123.3Q190.8 127.0 193.1 129.9M169.6 145.6Q162.4 148.6 154.6 147.6M102.7 139.3Q99.8 137.7 97.4 135.3M82.1 225.4Q85.0 222.8 88.8 221.7M143.3 20.8Q134.4 20.0 126.4 15.9M131.4 152.6Q135.8 143.4 134.7 133.3M120.5 158.9Q121.8 156.3 121.4 153.4M85.2 165.5Q89.1 158.2 88.2 150.0M106.5 155.7Q101.9 153.3 97.2 155.5M180.2 173.8Q174.9 173.5 170.7 176.8M219.5 191.0Q214.6 189.2 210.2 191.9M215.7 228.5Q211.7 227.8 208.2 230.1M192.6 204.9Q196.0 209.4 201.1 211.8M135.0 56.0Q128.9 58.3 122.7 56.0M113.9 27.7Q117.9 27.2 121.9 26.8M132.4 97.6Q131.4 95.6 129.9 93.8M161.9 196.4Q161.3 200.1 161.1 203.9M119.3 246.7Q117.3 242.4 119.2 238.0M107.9 257.8Q102.9 251.6 96.5 246.8M118.2 177.8Q117.1 179.1 116.1 180.5M142.1 272.4Q140.2 265.0 133.2 262.1M167.8 65.6Q170.5 60.0 168.4 54.1M183.0 67.6Q184.3 68.0 184.9 69.1M155.1 52.2Q162.1 50.5 168.4 54.1M200.3 81.2Q201.1 85.6 205.0 87.8M204.4 37.3Q203.3 41.2 200.2 44.0" stroke="rgba(66,180,38,.8)" stroke-width="0.5"/>
<path d="M165.7 278.6Q165.5 272.1 166.5 265.7M162.3 77.7Q164.9 78.5 166.8 80.5M92.0 149.8Q89.4 149.8 87.7 151.8M161.9 217.4Q164.6 214.8 166.4 211.6M206.0 228.9Q203.1 229.4 200.4 230.6M193.9 223.4Q199.0 218.5 201.1 211.8M188.3 238.4Q192.9 232.2 200.4 230.6M108.7 13.9Q111.7 19.5 109.8 25.4M97.1 22.0Q99.3 26.7 104.1 28.7M77.4 180.0Q82.1 178.1 87.1 178.1M214.2 248.9Q211.8 254.0 207.3 257.6M209.7 6.4Q210.7 11.1 214.0 14.7M190.7 31.7Q184.0 28.3 177.1 31.2M93.1 35.8Q89.3 33.5 88.4 29.2M80.4 39.8Q82.4 42.9 83.9 46.4M103.3 192.8Q106.2 188.9 109.4 185.3M204.9 157.7Q207.8 157.5 210.5 158.4M144.2 181.4Q144.2 183.4 145.7 184.7M221.4 52.2Q218.4 51.1 217.1 48.2M131.9 89.2Q130.2 85.3 128.6 81.3M189.0 85.8Q195.7 86.0 200.3 81.2M188.9 40.7Q186.3 43.2 184.4 46.3" stroke="rgba(66,180,38,.8)" stroke-width="0.8"/>
<path d="M149.6 62.6Q154.8 58.7 155.1 52.2M189.0 92.9Q192.8 93.8 195.8 96.3M129.3 110.8Q130.5 111.4 130.9 112.7M106.7 82.5Q110.0 85.7 112.0 89.8M222.2 170.2Q220.3 175.4 220.1 180.9M176.3 95.4Q178.6 90.4 183.5 88.1M206.2 186.1Q206.7 182.0 207.9 178.0M163.2 245.4Q163.4 241.3 161.1 237.9M164.2 260.2Q167.7 255.9 167.4 250.4M179.9 226.1Q185.3 231.5 188.3 238.4M185.7 239.7Q187.3 239.6 188.3 238.4M206.0 228.9Q204.4 221.8 203.4 214.6M214.0 208.6Q208.4 211.0 203.4 214.6M112.2 214.2Q103.4 216.3 94.9 213.3M122.7 56.0Q119.0 58.0 116.7 61.5M82.4 16.2Q80.8 18.0 78.3 18.1M180.8 192.6Q174.6 190.4 170.9 185.0M143.9 209.2Q144.4 206.6 143.4 204.3M196.5 20.0Q191.1 19.1 186.2 16.5M104.2 74.6Q104.4 69.8 105.6 65.1M94.7 23.5Q91.9 26.7 88.4 29.2M92.5 49.8Q92.1 55.3 88.3 59.4M87.7 46.4Q85.8 46.0 83.9 46.4M208.2 175.2Q206.5 174.4 205.1 173.3M148.9 183.5Q147.5 184.6 145.7 184.7M221.4 52.2Q226.6 50.8 231.3 48.5M134.7 72.5Q133.7 74.8 133.3 77.2M104.6 175.8Q109.2 172.8 109.8 167.5M107.6 165.5Q102.0 166.6 97.0 164.0M216.0 72.5Q207.9 73.6 200.1 76.2M218.0 64.3Q218.3 68.7 216.0 72.5" stroke="rgba(66,180,38,.8)" stroke-width="1.0"/>
<path d="M83.3 263.3Q84.5 254.8 90.5 248.6M110.0 268.5Q111.6 268.2 112.8 267.1M223.6 171.2Q219.8 173.7 215.6 175.7M142.3 92.9Q146.5 101.1 154.1 106.4M126.6 140.2Q126.6 138.9 125.6 138.2M153.1 -14.0Q161.3 -1.1 162.3 14.1M128.9 40.8Q130.0 42.1 131.5 42.9M153.7 33.7Q148.6 36.8 147.7 42.7M201.3 145.9Q197.8 138.2 189.3 137.4M215.5 95.3Q216.4 98.9 219.1 101.6M68.4 113.7Q74.4 122.4 84.5 125.5M157.3 237.5Q154.2 235.5 152.5 232.2M134.4 192.5Q126.3 198.1 116.9 201.2M215.3 209.6Q205.7 212.7 195.7 211.4M234.4 191.9Q227.1 199.5 216.5 198.4M102.5 69.4Q107.1 65.6 109.2 60.0M150.8 79.6Q147.9 76.7 147.9 72.7M144.8 66.4Q133.2 69.7 122.9 76.0M147.9 72.7Q156.5 70.7 160.7 63.0M182.9 42.9Q182.9 45.4 180.9 46.8M197.0 64.9Q203.0 66.3 208.7 63.6M215.5 95.3Q221.7 89.3 220.1 80.9M152.5 232.2Q155.4 216.1 166.3 204.1M222.2 249.0Q221.1 246.7 219.1 245.2M198.5 243.8Q204.0 238.1 202.6 230.3M84.9 234.5Q86.6 236.7 86.4 239.5M223.6 171.2Q232.8 171.3 239.2 177.8M201.3 145.9Q205.8 138.8 212.5 133.8M89.6 33.6Q83.9 32.7 80.4 28.2M150.8 79.6Q159.7 86.7 170.2 90.9M161.1 125.2Q157.7 128.5 155.1 132.5M124.8 124.5Q121.2 131.6 125.6 138.2M119.9 98.7Q124.1 109.1 131.3 117.5M100.3 159.1Q100.5 152.9 95.9 148.8M114.8 154.6Q119.4 146.4 126.6 140.2M185.9 165.8Q184.0 176.8 184.3 187.8M153.7 33.7Q154.2 30.8 153.4 27.9M61.5 55.6Q76.0 54.9 84.3 66.8M189.4 126.8Q183.7 126.3 178.2 125.1M104.7 184.4Q102.5 175.5 104.0 166.4M85.2 97.0Q96.2 96.8 106.5 92.9M119.9 98.7Q118.5 96.8 116.1 96.6M154.3 198.5Q158.7 204.8 166.3 204.1M175.1 187.3Q172.7 196.7 174.5 206.1M190.5 220.4Q196.5 225.4 202.6 230.3M199.0 161.1Q204.8 166.8 203.1 174.7M94.8 9.0Q89.1 20.7 89.6 33.6M97.9 224.5Q100.2 230.0 106.0 231.5M182.4 260.5Q188.1 262.0 193.2 264.8M109.2 191.3Q108.3 187.0 104.7 184.4M164.8 146.4Q154.2 153.0 142.0 150.5M142.0 150.5Q139.2 149.2 138.4 146.1M134.4 192.5Q137.6 194.3 141.1 193.5M121.9 181.0Q129.3 175.3 129.0 166.0M179.7 255.6Q187.3 250.4 188.8 241.3M180.6 186.2Q190.7 191.8 195.1 202.5M121.9 91.9Q120.0 95.5 116.1 96.6M159.6 20.1Q165.8 24.7 173.6 24.5M170.2 90.9Q170.0 86.0 173.5 82.7M154.3 198.5Q159.9 187.3 171.8 183.2M180.6 186.2Q177.8 186.3 175.1 187.3M189.0 211.6Q192.3 209.7 195.7 211.4M229.7 32.8Q216.5 30.2 208.8 19.0M215.6 175.7Q209.4 174.6 203.1 174.7M89.6 33.6Q92.3 36.0 94.2 39.2M162.3 14.1Q160.5 16.9 159.6 20.1M91.8 63.8Q87.9 64.8 84.3 66.8M212.5 133.8Q204.9 124.1 192.7 122.4M159.9 167.5Q161.4 156.7 164.8 146.4M69.5 187.9Q80.6 188.4 89.4 181.6M127.4 164.4Q129.3 153.1 138.4 146.1M152.8 171.5Q139.6 174.1 129.0 166.0M109.2 191.3Q108.4 192.9 108.4 194.6M188.8 241.3Q187.9 240.3 187.2 239.1M177.4 58.7Q178.6 52.6 180.9 46.8M167.6 39.9Q172.3 39.2 175.7 42.6M153.7 33.7Q161.6 34.7 167.6 39.9M182.9 42.9Q183.7 29.6 192.0 19.3M220.1 80.9Q222.3 79.2 225.0 79.2M192.0 19.3Q199.1 20.9 205.2 16.9" stroke="rgba(40,54,6,.7)" stroke-width="3.8"/>
<path d="M68.1 272.9Q76.1 269.3 83.9 265.3M228.3 147.5Q220.0 149.2 217.3 157.3M129.5 22.4Q130.1 23.8 129.2 25.1M129.2 25.1Q141.6 24.2 153.4 27.9M199.5 88.2Q204.5 90.7 204.7 96.3M126.6 140.2Q131.8 139.7 134.9 144.0M147.7 42.7Q149.7 46.2 150.3 50.2M193.8 110.9Q195.5 116.9 192.7 122.4M155.1 132.5Q160.2 140.4 167.1 146.8M204.7 96.3Q210.3 97.1 215.5 95.3M82.8 96.5Q83.2 98.4 84.6 99.7M89.4 181.6Q89.6 184.2 91.5 185.9M176.8 212.8Q182.6 209.1 189.0 211.6M173.6 24.5Q174.7 13.4 185.0 8.8M211.2 248.5Q216.6 250.6 222.2 249.0M220.1 215.0Q233.1 209.5 246.4 205.0M82.1 267.1Q82.6 265.8 83.9 265.3M129.5 22.4Q138.5 19.5 143.8 11.7M87.5 210.2Q93.0 217.2 97.9 224.5M178.3 100.8Q185.5 106.8 193.8 110.9M76.1 151.9Q85.1 144.9 95.9 148.8M100.3 159.1Q107.0 154.9 114.8 154.6M94.3 137.9Q97.7 136.2 101.4 137.3M179.7 255.6Q180.6 258.3 182.4 260.5M72.8 78.1Q78.0 75.2 83.8 73.5M170.8 141.1Q174.7 145.1 180.3 145.7M192.7 122.4Q191.5 124.9 189.4 126.8M167.1 146.8Q165.8 147.1 164.8 146.4M89.4 181.6Q89.1 172.9 92.3 164.9M148.5 230.4Q142.0 216.2 141.5 200.5M141.1 193.5Q151.9 185.1 152.8 171.5M182.9 42.9Q185.4 42.8 187.4 44.3M76.2 223.8Q81.2 228.6 84.9 234.5M201.3 145.9Q202.0 151.2 206.0 154.6M105.1 39.8Q117.0 40.5 128.9 40.8M72.5 140.4Q79.5 135.7 86.5 131.1M164.3 249.4Q161.2 245.9 157.1 243.6M112.8 267.1Q119.1 257.5 130.0 254.1M200.2 274.5Q195.5 270.5 193.2 264.8M203.1 174.7Q201.9 179.2 197.8 181.1M91.0 40.6Q71.8 39.4 61.5 55.6M189.3 137.4Q182.5 139.0 180.3 145.7M195.2 112.9Q206.5 114.3 217.9 113.3M94.0 109.4Q89.1 103.5 85.2 97.0M82.0 169.2Q86.5 165.5 92.3 164.9M134.0 226.0Q141.1 223.1 147.3 227.6M127.4 211.7Q131.6 202.5 141.5 200.5M114.1 218.2Q119.4 218.1 122.9 214.3M215.6 175.7Q218.5 185.0 213.4 193.3M105.1 39.8Q105.9 50.2 109.2 60.0M174.5 206.1Q169.9 207.1 166.3 204.1M166.7 172.5Q167.0 178.9 171.8 183.2M219.1 245.2Q216.3 234.2 215.2 223.0M218.7 213.3Q219.4 214.2 220.1 215.0M229.7 32.8Q218.1 38.0 208.7 46.8M187.4 44.3Q196.6 48.7 205.2 43.1M212.5 133.8Q214.8 130.3 218.9 129.3M150.8 79.6Q150.3 88.6 142.3 92.9M170.2 90.9Q173.0 93.2 172.4 96.8M169.7 98.3Q159.9 99.9 156.5 109.3M140.6 115.0Q137.0 124.9 143.7 133.1M143.7 133.1Q149.5 134.8 155.1 132.5M134.9 144.0Q137.6 137.2 143.7 133.1M107.5 119.2Q104.9 128.4 101.4 137.3M157.1 243.6Q146.5 248.4 137.7 256.1M77.9 88.2Q81.0 92.0 82.8 96.5M90.8 79.4Q88.7 88.9 82.8 96.5M170.8 141.1Q171.8 133.8 174.0 126.8M185.9 165.8Q177.0 171.4 166.7 172.5M68.4 113.7Q79.7 110.4 84.6 99.7M105.1 111.1Q99.6 110.3 94.0 109.4M100.0 159.5Q100.8 163.6 104.0 166.4M122.4 230.2Q127.1 225.1 134.0 226.0M204.0 188.0Q209.1 190.0 213.4 193.3M180.6 186.2Q182.4 187.1 184.3 187.8M122.9 76.0Q123.5 69.0 118.8 63.8M101.4 81.8Q105.4 75.9 102.5 69.4M147.9 72.7Q147.6 68.9 144.8 66.4M130.6 52.4Q122.1 55.4 118.8 63.8M91.8 63.8Q95.8 69.2 102.5 69.4M197.0 64.9Q192.2 67.7 191.5 73.2M191.5 73.2Q191.8 79.6 197.2 82.9M215.6 56.0Q212.5 60.2 208.7 63.6M235.8 221.0Q226.7 221.3 220.1 215.0M215.6 56.0Q214.8 49.4 208.7 46.8" stroke="rgba(40,54,6,.7)" stroke-width="4.8"/>
<path d="M82.1 267.1Q83.7 265.5 83.3 263.3M72.4 240.5Q79.2 237.6 86.4 239.5M110.0 268.5Q95.9 270.9 82.1 267.1M206.0 154.6Q212.1 153.8 217.3 157.3M206.0 154.6Q202.5 157.8 199.0 161.1M193.8 110.9Q194.6 111.9 195.2 112.9M131.3 117.5Q127.5 120.5 124.8 124.5M124.8 124.5Q114.6 127.0 107.5 119.2M106.3 247.6Q104.2 248.9 101.7 248.3M199.0 161.1Q194.2 158.2 188.7 158.6M197.8 181.1Q191.7 185.7 184.3 187.8M140.7 59.8Q145.4 54.9 150.3 50.2M83.8 73.5Q85.4 70.3 84.3 66.8M94.2 39.2Q92.6 39.9 91.0 40.6M189.3 137.4Q189.6 132.1 189.4 126.8M159.9 167.5Q162.4 171.2 166.7 172.5M239.8 113.8Q231.0 120.3 220.2 118.8M218.9 129.3Q219.2 124.0 220.2 118.8M86.5 131.1Q86.5 127.9 84.5 125.5M92.3 164.9Q94.9 160.4 100.0 159.5M89.3 210.2Q91.6 198.2 91.5 185.9M159.9 167.5Q155.4 167.0 151.1 168.6M151.1 168.6Q148.5 158.6 142.0 150.5M114.8 154.6Q118.5 162.9 127.4 164.4M127.4 211.7Q130.7 218.8 134.0 226.0M130.0 254.1Q128.7 249.5 125.3 246.0M122.9 214.3Q118.5 208.4 116.9 201.2M213.4 193.3Q214.3 196.3 216.5 198.4M197.8 181.1Q201.2 184.2 204.0 188.0M177.4 58.7Q171.9 60.5 167.9 64.7M173.5 82.7Q182.5 82.9 187.2 75.3M208.0 19.6Q216.9 14.3 221.5 4.9M208.7 63.6Q213.3 68.9 213.0 75.9M187.4 44.3Q188.9 56.1 197.0 64.9M204.8 273.9Q212.4 262.3 211.2 248.5M237.3 235.0Q226.8 237.7 219.1 245.2M205.2 43.1Q207.8 44.1 208.7 46.8M116.5 13.8Q120.6 21.8 129.5 22.4M232.4 141.8Q227.5 133.6 218.9 129.3M103.2 37.2Q98.1 35.7 94.2 39.2M156.5 109.3Q156.7 117.8 161.1 125.2M131.3 117.5Q135.9 116.0 140.6 115.0M90.5 248.6Q96.0 245.9 101.7 248.3M130.6 52.4Q132.2 47.7 131.5 42.9M161.1 125.2Q167.9 123.2 174.0 126.8M219.1 101.6Q226.7 101.3 232.8 96.8M148.5 230.4Q147.4 229.2 147.3 227.6M157.1 243.6Q155.7 240.5 157.3 237.5M148.5 230.4Q150.8 230.6 152.5 232.2M116.9 201.2Q114.1 196.1 108.4 194.6M144.9 197.1Q142.3 196.0 141.1 193.5M173.5 82.7Q175.8 72.1 167.9 64.7M162.3 14.1Q175.6 14.2 184.6 4.4M220.1 80.9Q215.5 79.9 213.0 75.9M176.8 212.8Q175.2 209.6 174.5 206.1M211.2 248.5Q207.7 248.9 204.5 247.7M218.7 213.3Q214.4 217.2 215.2 223.0M112.8 267.1Q121.7 282.0 117.9 298.9M217.3 157.3Q222.4 163.4 223.6 171.2M119.9 98.7Q111.2 103.3 105.1 111.1M110.0 268.5Q110.3 257.7 106.3 247.6M101.7 248.3Q105.7 240.3 106.0 231.5M164.3 249.4Q172.0 252.5 179.7 255.6M188.7 158.6Q183.3 152.9 180.3 145.7M169.7 98.3Q175.7 111.2 178.2 125.1M167.1 146.8Q169.2 144.2 170.8 141.1M219.1 101.6Q221.3 107.8 217.9 113.3M220.2 118.8Q220.4 115.4 217.9 113.3M91.5 185.9Q98.1 184.9 104.7 184.4M121.4 179.4Q113.5 171.7 104.0 166.4M99.9 204.8Q106.2 201.4 108.4 194.6M157.3 237.5Q164.0 232.6 172.3 231.6M195.7 211.4Q193.6 207.1 195.1 202.5M106.5 92.9Q112.4 91.9 116.1 96.6M157.0 51.9Q160.9 56.7 160.7 63.0M160.7 63.0Q164.5 63.3 167.9 64.7M187.2 75.3Q180.6 68.1 177.4 58.7M173.6 24.5Q179.8 33.0 175.7 42.6M204.5 247.7Q201.9 245.1 198.5 243.8M231.0 257.6Q227.5 252.3 222.2 249.0M128.9 40.8Q125.7 32.9 129.2 25.1M178.3 100.8Q189.5 95.5 199.5 88.2M140.6 115.0Q148.6 112.8 154.1 106.4M105.1 111.1Q107.6 114.8 107.5 119.2M84.5 125.5Q89.6 117.6 94.0 109.4M84.6 99.7Q85.1 98.4 85.2 97.0M89.3 210.2Q94.1 206.5 99.9 204.8M190.5 220.4Q189.0 216.1 189.0 211.6M106.5 92.9Q104.9 86.9 101.4 81.8M167.6 39.9Q160.0 43.8 157.0 51.9M193.2 264.8Q200.5 257.4 204.5 247.7M205.2 16.9Q201.9 30.0 205.2 43.1" stroke="rgba(40,54,6,.7)" stroke-width="6.0"/>
<path d="M84.9 234.5Q86.6 236.7 86.4 239.5M223.6 171.2Q232.8 171.3 239.2 177.8M201.3 145.9Q205.8 138.8 212.5 133.8M89.6 33.6Q83.9 32.7 80.4 28.2M150.8 79.6Q159.7 86.7 170.2 90.9M161.1 125.2Q157.7 128.5 155.1 132.5M124.8 124.5Q121.2 131.6 125.6 138.2M119.9 98.7Q124.1 109.1 131.3 117.5M100.3 159.1Q100.5 152.9 95.9 148.8M114.8 154.6Q119.4 146.4 126.6 140.2M185.9 165.8Q184.0 176.8 184.3 187.8M153.7 33.7Q154.2 30.8 153.4 27.9M61.5 55.6Q76.0 54.9 84.3 66.8M189.4 126.8Q183.7 126.3 178.2 125.1M104.7 184.4Q102.5 175.5 104.0 166.4M85.2 97.0Q96.2 96.8 106.5 92.9M119.9 98.7Q118.5 96.8 116.1 96.6M154.3 198.5Q158.7 204.8 166.3 204.1M175.1 187.3Q172.7 196.7 174.5 206.1M190.5 220.4Q196.5 225.4 202.6 230.3" stroke="rgb(204,194,42)" stroke-width="2.4"/>
<path d="M82.1 267.1Q82.6 265.8 83.9 265.3M129.5 22.4Q138.5 19.5 143.8 11.7M87.5 210.2Q93.0 217.2 97.9 224.5M178.3 100.8Q185.5 106.8 193.8 110.9M76.1 151.9Q85.1 144.9 95.9 148.8M100.3 159.1Q107.0 154.9 114.8 154.6M94.3 137.9Q97.7 136.2 101.4 137.3M179.7 255.6Q180.6 258.3 182.4 260.5M72.8 78.1Q78.0 75.2 83.8 73.5M170.8 141.1Q174.7 145.1 180.3 145.7M192.7 122.4Q191.5 124.9 189.4 126.8M167.1 146.8Q165.8 147.1 164.8 146.4M89.4 181.6Q89.1 172.9 92.3 164.9M148.5 230.4Q142.0 216.2 141.5 200.5M141.1 193.5Q151.9 185.1 152.8 171.5M182.9 42.9Q185.4 42.8 187.4 44.3" stroke="rgb(204,194,42)" stroke-width="3.4"/>
<path d="M82.1 267.1Q83.7 265.5 83.3 263.3M72.4 240.5Q79.2 237.6 86.4 239.5M110.0 268.5Q95.9 270.9 82.1 267.1M206.0 154.6Q212.1 153.8 217.3 157.3M206.0 154.6Q202.5 157.8 199.0 161.1M193.8 110.9Q194.6 111.9 195.2 112.9M131.3 117.5Q127.5 120.5 124.8 124.5M124.8 124.5Q114.6 127.0 107.5 119.2M106.3 247.6Q104.2 248.9 101.7 248.3M199.0 161.1Q194.2 158.2 188.7 158.6M197.8 181.1Q191.7 185.7 184.3 187.8M140.7 59.8Q145.4 54.9 150.3 50.2M83.8 73.5Q85.4 70.3 84.3 66.8M94.2 39.2Q92.6 39.9 91.0 40.6M189.3 137.4Q189.6 132.1 189.4 126.8M159.9 167.5Q162.4 171.2 166.7 172.5M239.8 113.8Q231.0 120.3 220.2 118.8M218.9 129.3Q219.2 124.0 220.2 118.8M86.5 131.1Q86.5 127.9 84.5 125.5M92.3 164.9Q94.9 160.4 100.0 159.5M89.3 210.2Q91.6 198.2 91.5 185.9M159.9 167.5Q155.4 167.0 151.1 168.6M151.1 168.6Q148.5 158.6 142.0 150.5M114.8 154.6Q118.5 162.9 127.4 164.4M127.4 211.7Q130.7 218.8 134.0 226.0M130.0 254.1Q128.7 249.5 125.3 246.0M122.9 214.3Q118.5 208.4 116.9 201.2M213.4 193.3Q214.3 196.3 216.5 198.4M197.8 181.1Q201.2 184.2 204.0 188.0M177.4 58.7Q171.9 60.5 167.9 64.7M173.5 82.7Q182.5 82.9 187.2 75.3M208.0 19.6Q216.9 14.3 221.5 4.9M208.7 63.6Q213.3 68.9 213.0 75.9M187.4 44.3Q188.9 56.1 197.0 64.9M204.8 273.9Q212.4 262.3 211.2 248.5M237.3 235.0Q226.8 237.7 219.1 245.2M205.2 43.1Q207.8 44.1 208.7 46.8" stroke="rgb(204,194,42)" stroke-width="4.6"/>
<path d="M83.3 263.3Q84.5 254.8 90.5 248.6M110.0 268.5Q111.6 268.2 112.8 267.1M223.6 171.2Q219.8 173.7 215.6 175.7M142.3 92.9Q146.5 101.1 154.1 106.4M126.6 140.2Q126.6 138.9 125.6 138.2M153.1 -14.0Q161.3 -1.1 162.3 14.1M128.9 40.8Q130.0 42.1 131.5 42.9M153.7 33.7Q148.6 36.8 147.7 42.7M201.3 145.9Q197.8 138.2 189.3 137.4M215.5 95.3Q216.4 98.9 219.1 101.6M68.4 113.7Q74.4 122.4 84.5 125.5M157.3 237.5Q154.2 235.5 152.5 232.2M134.4 192.5Q126.3 198.1 116.9 201.2M215.3 209.6Q205.7 212.7 195.7 211.4M234.4 191.9Q227.1 199.5 216.5 198.4M102.5 69.4Q107.1 65.6 109.2 60.0M150.8 79.6Q147.9 76.7 147.9 72.7M144.8 66.4Q133.2 69.7 122.9 76.0M147.9 72.7Q156.5 70.7 160.7 63.0M182.9 42.9Q182.9 45.4 180.9 46.8M197.0 64.9Q203.0 66.3 208.7 63.6M215.5 95.3Q221.7 89.3 220.1 80.9M152.5 232.2Q155.4 216.1 166.3 204.1M222.2 249.0Q221.1 246.7 219.1 245.2M198.5 243.8Q204.0 238.1 202.6 230.3" stroke="rgb(174,164,36)" stroke-width="2.4"/>
<path d="M212.5 133.8Q214.8 130.3 218.9 129.3M150.8 79.6Q150.3 88.6 142.3 92.9M170.2 90.9Q173.0 93.2 172.4 96.8M169.7 98.3Q159.9 99.9 156.5 109.3M140.6 115.0Q137.0 124.9 143.7 133.1M143.7 133.1Q149.5 134.8 155.1 132.5M134.9 144.0Q137.6 137.2 143.7 133.1M107.5 119.2Q104.9 128.4 101.4 137.3M157.1 243.6Q146.5 248.4 137.7 256.1M77.9 88.2Q81.0 92.0 82.8 96.5M90.8 79.4Q88.7 88.9 82.8 96.5M170.8 141.1Q171.8 133.8 174.0 126.8M185.9 165.8Q177.0 171.4 166.7 172.5M68.4 113.7Q79.7 110.4 84.6 99.7M105.1 111.1Q99.6 110.3 94.0 109.4M100.0 159.5Q100.8 163.6 104.0 166.4M122.4 230.2Q127.1 225.1 134.0 226.0M204.0 188.0Q209.1 190.0 213.4 193.3M180.6 186.2Q182.4 187.1 184.3 187.8M122.9 76.0Q123.5 69.0 118.8 63.8M101.4 81.8Q105.4 75.9 102.5 69.4M147.9 72.7Q147.6 68.9 144.8 66.4M130.6 52.4Q122.1 55.4 118.8 63.8M91.8 63.8Q95.8 69.2 102.5 69.4M197.0 64.9Q192.2 67.7 191.5 73.2M191.5 73.2Q191.8 79.6 197.2 82.9M215.6 56.0Q212.5 60.2 208.7 63.6M235.8 221.0Q226.7 221.3 220.1 215.0M215.6 56.0Q214.8 49.4 208.7 46.8" stroke="rgb(174,164,36)" stroke-width="3.4"/>
<path d="M116.5 13.8Q120.6 21.8 129.5 22.4M232.4 141.8Q227.5 133.6 218.9 129.3M103.2 37.2Q98.1 35.7 94.2 39.2M156.5 109.3Q156.7 117.8 161.1 125.2M131.3 117.5Q135.9 116.0 140.6 115.0M90.5 248.6Q96.0 245.9 101.7 248.3M130.6 52.4Q132.2 47.7 131.5 42.9M161.1 125.2Q167.9 123.2 174.0 126.8M219.1 101.6Q226.7 101.3 232.8 96.8M148.5 230.4Q147.4 229.2 147.3 227.6M157.1 243.6Q155.7 240.5 157.3 237.5M148.5 230.4Q150.8 230.6 152.5 232.2M116.9 201.2Q114.1 196.1 108.4 194.6M144.9 197.1Q142.3 196.0 141.1 193.5M173.5 82.7Q175.8 72.1 167.9 64.7M162.3 14.1Q175.6 14.2 184.6 4.4M220.1 80.9Q215.5 79.9 213.0 75.9M176.8 212.8Q175.2 209.6 174.5 206.1M211.2 248.5Q207.7 248.9 204.5 247.7M218.7 213.3Q214.4 217.2 215.2 223.0" stroke="rgb(174,164,36)" stroke-width="4.6"/>
<path d="M215.6 175.7Q209.4 174.6 203.1 174.7M89.6 33.6Q92.3 36.0 94.2 39.2M162.3 14.1Q160.5 16.9 159.6 20.1M91.8 63.8Q87.9 64.8 84.3 66.8M212.5 133.8Q204.9 124.1 192.7 122.4M159.9 167.5Q161.4 156.7 164.8 146.4M69.5 187.9Q80.6 188.4 89.4 181.6M127.4 164.4Q129.3 153.1 138.4 146.1M152.8 171.5Q139.6 174.1 129.0 166.0M109.2 191.3Q108.4 192.9 108.4 194.6M188.8 241.3Q187.9 240.3 187.2 239.1M177.4 58.7Q178.6 52.6 180.9 46.8M167.6 39.9Q172.3 39.2 175.7 42.6M153.7 33.7Q161.6 34.7 167.6 39.9M182.9 42.9Q183.7 29.6 192.0 19.3M220.1 80.9Q222.3 79.2 225.0 79.2M192.0 19.3Q199.1 20.9 205.2 16.9" stroke="rgb(224,146,36)" stroke-width="2.4"/>
<path d="M68.1 272.9Q76.1 269.3 83.9 265.3M228.3 147.5Q220.0 149.2 217.3 157.3M129.5 22.4Q130.1 23.8 129.2 25.1M129.2 25.1Q141.6 24.2 153.4 27.9M199.5 88.2Q204.5 90.7 204.7 96.3M126.6 140.2Q131.8 139.7 134.9 144.0M147.7 42.7Q149.7 46.2 150.3 50.2M193.8 110.9Q195.5 116.9 192.7 122.4M155.1 132.5Q160.2 140.4 167.1 146.8M204.7 96.3Q210.3 97.1 215.5 95.3M82.8 96.5Q83.2 98.4 84.6 99.7M89.4 181.6Q89.6 184.2 91.5 185.9M176.8 212.8Q182.6 209.1 189.0 211.6M173.6 24.5Q174.7 13.4 185.0 8.8M211.2 248.5Q216.6 250.6 222.2 249.0M220.1 215.0Q233.1 209.5 246.4 205.0" stroke="rgb(224,146,36)" stroke-width="3.4"/>
<path d="M128.9 40.8Q125.7 32.9 129.2 25.1M178.3 100.8Q189.5 95.5 199.5 88.2M140.6 115.0Q148.6 112.8 154.1 106.4M105.1 111.1Q107.6 114.8 107.5 119.2M84.5 125.5Q89.6 117.6 94.0 109.4M84.6 99.7Q85.1 98.4 85.2 97.0M89.3 210.2Q94.1 206.5 99.9 204.8M190.5 220.4Q189.0 216.1 189.0 211.6M106.5 92.9Q104.9 86.9 101.4 81.8M167.6 39.9Q160.0 43.8 157.0 51.9M193.2 264.8Q200.5 257.4 204.5 247.7M205.2 16.9Q201.9 30.0 205.2 43.1" stroke="rgb(224,146,36)" stroke-width="4.6"/>
<path d="M199.0 161.1Q204.8 166.8 203.1 174.7M94.8 9.0Q89.1 20.7 89.6 33.6M97.9 224.5Q100.2 230.0 106.0 231.5M182.4 260.5Q188.1 262.0 193.2 264.8M109.2 191.3Q108.3 187.0 104.7 184.4M164.8 146.4Q154.2 153.0 142.0 150.5M142.0 150.5Q139.2 149.2 138.4 146.1M134.4 192.5Q137.6 194.3 141.1 193.5M121.9 181.0Q129.3 175.3 129.0 166.0M179.7 255.6Q187.3 250.4 188.8 241.3M180.6 186.2Q190.7 191.8 195.1 202.5M121.9 91.9Q120.0 95.5 116.1 96.6M159.6 20.1Q165.8 24.7 173.6 24.5M170.2 90.9Q170.0 86.0 173.5 82.7M154.3 198.5Q159.9 187.3 171.8 183.2M180.6 186.2Q177.8 186.3 175.1 187.3M189.0 211.6Q192.3 209.7 195.7 211.4M229.7 32.8Q216.5 30.2 208.8 19.0" stroke="rgb(36,170,26)" stroke-width="2.4"/>
<path d="M76.2 223.8Q81.2 228.6 84.9 234.5M201.3 145.9Q202.0 151.2 206.0 154.6M105.1 39.8Q117.0 40.5 128.9 40.8M72.5 140.4Q79.5 135.7 86.5 131.1M164.3 249.4Q161.2 245.9 157.1 243.6M112.8 267.1Q119.1 257.5 130.0 254.1M200.2 274.5Q195.5 270.5 193.2 264.8M203.1 174.7Q201.9 179.2 197.8 181.1M91.0 40.6Q71.8 39.4 61.5 55.6M189.3 137.4Q182.5 139.0 180.3 145.7M195.2 112.9Q206.5 114.3 217.9 113.3M94.0 109.4Q89.1 103.5 85.2 97.0M82.0 169.2Q86.5 165.5 92.3 164.9M134.0 226.0Q141.1 223.1 147.3 227.6M127.4 211.7Q131.6 202.5 141.5 200.5M114.1 218.2Q119.4 218.1 122.9 214.3M215.6 175.7Q218.5 185.0 213.4 193.3M105.1 39.8Q105.9 50.2 109.2 60.0M174.5 206.1Q169.9 207.1 166.3 204.1M166.7 172.5Q167.0 178.9 171.8 183.2M219.1 245.2Q216.3 234.2 215.2 223.0M218.7 213.3Q219.4 214.2 220.1 215.0M229.7 32.8Q218.1 38.0 208.7 46.8M187.4 44.3Q196.6 48.7 205.2 43.1" stroke="rgb(36,170,26)" stroke-width="3.4"/>
<path d="M112.8 267.1Q121.7 282.0 117.9 298.9M217.3 157.3Q222.4 163.4 223.6 171.2M119.9 98.7Q111.2 103.3 105.1 111.1M110.0 268.5Q110.3 257.7 106.3 247.6M101.7 248.3Q105.7 240.3 106.0 231.5M164.3 249.4Q172.0 252.5 179.7 255.6M188.7 158.6Q183.3 152.9 180.3 145.7M169.7 98.3Q175.7 111.2 178.2 125.1M167.1 146.8Q169.2 144.2 170.8 141.1M219.1 101.6Q221.3 107.8 217.9 113.3M220.2 118.8Q220.4 115.4 217.9 113.3M91.5 185.9Q98.1 184.9 104.7 184.4M121.4 179.4Q113.5 171.7 104.0 166.4M99.9 204.8Q106.2 201.4 108.4 194.6M157.3 237.5Q164.0 232.6 172.3 231.6M195.7 211.4Q193.6 207.1 195.1 202.5M106.5 92.9Q112.4 91.9 116.1 96.6M157.0 51.9Q160.9 56.7 160.7 63.0M160.7 63.0Q164.5 63.3 167.9 64.7M187.2 75.3Q180.6 68.1 177.4 58.7M173.6 24.5Q179.8 33.0 175.7 42.6M204.5 247.7Q201.9 245.1 198.5 243.8M231.0 257.6Q227.5 252.3 222.2 249.0" stroke="rgb(36,170,26)" stroke-width="4.6"/>
<path d="M84.9 234.5Q86.6 236.7 86.4 239.5M223.6 171.2Q232.8 171.3 239.2 177.8M201.3 145.9Q205.8 138.8 212.5 133.8M89.6 33.6Q83.9 32.7 80.4 28.2M150.8 79.6Q159.7 86.7 170.2 90.9M161.1 125.2Q157.7 128.5 155.1 132.5M124.8 124.5Q121.2 131.6 125.6 138.2M119.9 98.7Q124.1 109.1 131.3 117.5M100.3 159.1Q100.5 152.9 95.9 148.8M114.8 154.6Q119.4 146.4 126.6 140.2M185.9 165.8Q184.0 176.8 184.3 187.8M153.7 33.7Q154.2 30.8 153.4 27.9M61.5 55.6Q76.0 54.9 84.3 66.8M189.4 126.8Q183.7 126.3 178.2 125.1M104.7 184.4Q102.5 175.5 104.0 166.4M85.2 97.0Q96.2 96.8 106.5 92.9M119.9 98.7Q118.5 96.8 116.1 96.6M154.3 198.5Q158.7 204.8 166.3 204.1M175.1 187.3Q172.7 196.7 174.5 206.1M190.5 220.4Q196.5 225.4 202.6 230.3" stroke="rgba(226,218,84,.7)" stroke-width="0.8"/>
<path d="M82.1 267.1Q82.6 265.8 83.9 265.3M129.5 22.4Q138.5 19.5 143.8 11.7M87.5 210.2Q93.0 217.2 97.9 224.5M178.3 100.8Q185.5 106.8 193.8 110.9M76.1 151.9Q85.1 144.9 95.9 148.8M100.3 159.1Q107.0 154.9 114.8 154.6M94.3 137.9Q97.7 136.2 101.4 137.3M179.7 255.6Q180.6 258.3 182.4 260.5M72.8 78.1Q78.0 75.2 83.8 73.5M170.8 141.1Q174.7 145.1 180.3 145.7M192.7 122.4Q191.5 124.9 189.4 126.8M167.1 146.8Q165.8 147.1 164.8 146.4M89.4 181.6Q89.1 172.9 92.3 164.9M148.5 230.4Q142.0 216.2 141.5 200.5M141.1 193.5Q151.9 185.1 152.8 171.5M182.9 42.9Q185.4 42.8 187.4 44.3" stroke="rgba(226,218,84,.7)" stroke-width="1.1"/>
<path d="M82.1 267.1Q83.7 265.5 83.3 263.3M72.4 240.5Q79.2 237.6 86.4 239.5M110.0 268.5Q95.9 270.9 82.1 267.1M206.0 154.6Q212.1 153.8 217.3 157.3M206.0 154.6Q202.5 157.8 199.0 161.1M193.8 110.9Q194.6 111.9 195.2 112.9M131.3 117.5Q127.5 120.5 124.8 124.5M124.8 124.5Q114.6 127.0 107.5 119.2M106.3 247.6Q104.2 248.9 101.7 248.3M199.0 161.1Q194.2 158.2 188.7 158.6M197.8 181.1Q191.7 185.7 184.3 187.8M140.7 59.8Q145.4 54.9 150.3 50.2M83.8 73.5Q85.4 70.3 84.3 66.8M94.2 39.2Q92.6 39.9 91.0 40.6M189.3 137.4Q189.6 132.1 189.4 126.8M159.9 167.5Q162.4 171.2 166.7 172.5M239.8 113.8Q231.0 120.3 220.2 118.8M218.9 129.3Q219.2 124.0 220.2 118.8M86.5 131.1Q86.5 127.9 84.5 125.5M92.3 164.9Q94.9 160.4 100.0 159.5M89.3 210.2Q91.6 198.2 91.5 185.9M159.9 167.5Q155.4 167.0 151.1 168.6M151.1 168.6Q148.5 158.6 142.0 150.5M114.8 154.6Q118.5 162.9 127.4 164.4M127.4 211.7Q130.7 218.8 134.0 226.0M130.0 254.1Q128.7 249.5 125.3 246.0M122.9 214.3Q118.5 208.4 116.9 201.2M213.4 193.3Q214.3 196.3 216.5 198.4M197.8 181.1Q201.2 184.2 204.0 188.0M177.4 58.7Q171.9 60.5 167.9 64.7M173.5 82.7Q182.5 82.9 187.2 75.3M208.0 19.6Q216.9 14.3 221.5 4.9M208.7 63.6Q213.3 68.9 213.0 75.9M187.4 44.3Q188.9 56.1 197.0 64.9M204.8 273.9Q212.4 262.3 211.2 248.5M237.3 235.0Q226.8 237.7 219.1 245.2M205.2 43.1Q207.8 44.1 208.7 46.8" stroke="rgba(226,218,84,.7)" stroke-width="1.5"/>
<path d="M83.3 263.3Q84.5 254.8 90.5 248.6M110.0 268.5Q111.6 268.2 112.8 267.1M223.6 171.2Q219.8 173.7 215.6 175.7M142.3 92.9Q146.5 101.1 154.1 106.4M126.6 140.2Q126.6 138.9 125.6 138.2M153.1 -14.0Q161.3 -1.1 162.3 14.1M128.9 40.8Q130.0 42.1 131.5 42.9M153.7 33.7Q148.6 36.8 147.7 42.7M201.3 145.9Q197.8 138.2 189.3 137.4M215.5 95.3Q216.4 98.9 219.1 101.6M68.4 113.7Q74.4 122.4 84.5 125.5M157.3 237.5Q154.2 235.5 152.5 232.2M134.4 192.5Q126.3 198.1 116.9 201.2M215.3 209.6Q205.7 212.7 195.7 211.4M234.4 191.9Q227.1 199.5 216.5 198.4M102.5 69.4Q107.1 65.6 109.2 60.0M150.8 79.6Q147.9 76.7 147.9 72.7M144.8 66.4Q133.2 69.7 122.9 76.0M147.9 72.7Q156.5 70.7 160.7 63.0M182.9 42.9Q182.9 45.4 180.9 46.8M197.0 64.9Q203.0 66.3 208.7 63.6M215.5 95.3Q221.7 89.3 220.1 80.9M152.5 232.2Q155.4 216.1 166.3 204.1M222.2 249.0Q221.1 246.7 219.1 245.2M198.5 243.8Q204.0 238.1 202.6 230.3" stroke="rgba(204,196,66,.7)" stroke-width="0.8"/>
<path d="M212.5 133.8Q214.8 130.3 218.9 129.3M150.8 79.6Q150.3 88.6 142.3 92.9M170.2 90.9Q173.0 93.2 172.4 96.8M169.7 98.3Q159.9 99.9 156.5 109.3M140.6 115.0Q137.0 124.9 143.7 133.1M143.7 133.1Q149.5 134.8 155.1 132.5M134.9 144.0Q137.6 137.2 143.7 133.1M107.5 119.2Q104.9 128.4 101.4 137.3M157.1 243.6Q146.5 248.4 137.7 256.1M77.9 88.2Q81.0 92.0 82.8 96.5M90.8 79.4Q88.7 88.9 82.8 96.5M170.8 141.1Q171.8 133.8 174.0 126.8M185.9 165.8Q177.0 171.4 166.7 172.5M68.4 113.7Q79.7 110.4 84.6 99.7M105.1 111.1Q99.6 110.3 94.0 109.4M100.0 159.5Q100.8 163.6 104.0 166.4M122.4 230.2Q127.1 225.1 134.0 226.0M204.0 188.0Q209.1 190.0 213.4 193.3M180.6 186.2Q182.4 187.1 184.3 187.8M122.9 76.0Q123.5 69.0 118.8 63.8M101.4 81.8Q105.4 75.9 102.5 69.4M147.9 72.7Q147.6 68.9 144.8 66.4M130.6 52.4Q122.1 55.4 118.8 63.8M91.8 63.8Q95.8 69.2 102.5 69.4M197.0 64.9Q192.2 67.7 191.5 73.2M191.5 73.2Q191.8 79.6 197.2 82.9M215.6 56.0Q212.5 60.2 208.7 63.6M235.8 221.0Q226.7 221.3 220.1 215.0M215.6 56.0Q214.8 49.4 208.7 46.8" stroke="rgba(204,196,66,.7)" stroke-width="1.1"/>
<path d="M116.5 13.8Q120.6 21.8 129.5 22.4M232.4 141.8Q227.5 133.6 218.9 129.3M103.2 37.2Q98.1 35.7 94.2 39.2M156.5 109.3Q156.7 117.8 161.1 125.2M131.3 117.5Q135.9 116.0 140.6 115.0M90.5 248.6Q96.0 245.9 101.7 248.3M130.6 52.4Q132.2 47.7 131.5 42.9M161.1 125.2Q167.9 123.2 174.0 126.8M219.1 101.6Q226.7 101.3 232.8 96.8M148.5 230.4Q147.4 229.2 147.3 227.6M157.1 243.6Q155.7 240.5 157.3 237.5M148.5 230.4Q150.8 230.6 152.5 232.2M116.9 201.2Q114.1 196.1 108.4 194.6M144.9 197.1Q142.3 196.0 141.1 193.5M173.5 82.7Q175.8 72.1 167.9 64.7M162.3 14.1Q175.6 14.2 184.6 4.4M220.1 80.9Q215.5 79.9 213.0 75.9M176.8 212.8Q175.2 209.6 174.5 206.1M211.2 248.5Q207.7 248.9 204.5 247.7M218.7 213.3Q214.4 217.2 215.2 223.0" stroke="rgba(204,196,66,.7)" stroke-width="1.5"/>
<path d="M215.6 175.7Q209.4 174.6 203.1 174.7M89.6 33.6Q92.3 36.0 94.2 39.2M162.3 14.1Q160.5 16.9 159.6 20.1M91.8 63.8Q87.9 64.8 84.3 66.8M212.5 133.8Q204.9 124.1 192.7 122.4M159.9 167.5Q161.4 156.7 164.8 146.4M69.5 187.9Q80.6 188.4 89.4 181.6M127.4 164.4Q129.3 153.1 138.4 146.1M152.8 171.5Q139.6 174.1 129.0 166.0M109.2 191.3Q108.4 192.9 108.4 194.6M188.8 241.3Q187.9 240.3 187.2 239.1M177.4 58.7Q178.6 52.6 180.9 46.8M167.6 39.9Q172.3 39.2 175.7 42.6M153.7 33.7Q161.6 34.7 167.6 39.9M182.9 42.9Q183.7 29.6 192.0 19.3M220.1 80.9Q222.3 79.2 225.0 79.2M192.0 19.3Q199.1 20.9 205.2 16.9" stroke="rgba(236,184,70,.7)" stroke-width="0.8"/>
<path d="M68.1 272.9Q76.1 269.3 83.9 265.3M228.3 147.5Q220.0 149.2 217.3 157.3M129.5 22.4Q130.1 23.8 129.2 25.1M129.2 25.1Q141.6 24.2 153.4 27.9M199.5 88.2Q204.5 90.7 204.7 96.3M126.6 140.2Q131.8 139.7 134.9 144.0M147.7 42.7Q149.7 46.2 150.3 50.2M193.8 110.9Q195.5 116.9 192.7 122.4M155.1 132.5Q160.2 140.4 167.1 146.8M204.7 96.3Q210.3 97.1 215.5 95.3M82.8 96.5Q83.2 98.4 84.6 99.7M89.4 181.6Q89.6 184.2 91.5 185.9M176.8 212.8Q182.6 209.1 189.0 211.6M173.6 24.5Q174.7 13.4 185.0 8.8M211.2 248.5Q216.6 250.6 222.2 249.0M220.1 215.0Q233.1 209.5 246.4 205.0" stroke="rgba(236,184,70,.7)" stroke-width="1.1"/>
<path d="M128.9 40.8Q125.7 32.9 129.2 25.1M178.3 100.8Q189.5 95.5 199.5 88.2M140.6 115.0Q148.6 112.8 154.1 106.4M105.1 111.1Q107.6 114.8 107.5 119.2M84.5 125.5Q89.6 117.6 94.0 109.4M84.6 99.7Q85.1 98.4 85.2 97.0M89.3 210.2Q94.1 206.5 99.9 204.8M190.5 220.4Q189.0 216.1 189.0 211.6M106.5 92.9Q104.9 86.9 101.4 81.8M167.6 39.9Q160.0 43.8 157.0 51.9M193.2 264.8Q200.5 257.4 204.5 247.7M205.2 16.9Q201.9 30.0 205.2 43.1" stroke="rgba(236,184,70,.7)" stroke-width="1.5"/>
<path d="M199.0 161.1Q204.8 166.8 203.1 174.7M94.8 9.0Q89.1 20.7 89.6 33.6M97.9 224.5Q100.2 230.0 106.0 231.5M182.4 260.5Q188.1 262.0 193.2 264.8M109.2 191.3Q108.3 187.0 104.7 184.4M164.8 146.4Q154.2 153.0 142.0 150.5M142.0 150.5Q139.2 149.2 138.4 146.1M134.4 192.5Q137.6 194.3 141.1 193.5M121.9 181.0Q129.3 175.3 129.0 166.0M179.7 255.6Q187.3 250.4 188.8 241.3M180.6 186.2Q190.7 191.8 195.1 202.5M121.9 91.9Q120.0 95.5 116.1 96.6M159.6 20.1Q165.8 24.7 173.6 24.5M170.2 90.9Q170.0 86.0 173.5 82.7M154.3 198.5Q159.9 187.3 171.8 183.2M180.6 186.2Q177.8 186.3 175.1 187.3M189.0 211.6Q192.3 209.7 195.7 211.4M229.7 32.8Q216.5 30.2 208.8 19.0" stroke="rgba(76,196,48,.7)" stroke-width="0.8"/>
<path d="M76.2 223.8Q81.2 228.6 84.9 234.5M201.3 145.9Q202.0 151.2 206.0 154.6M105.1 39.8Q117.0 40.5 128.9 40.8M72.5 140.4Q79.5 135.7 86.5 131.1M164.3 249.4Q161.2 245.9 157.1 243.6M112.8 267.1Q119.1 257.5 130.0 254.1M200.2 274.5Q195.5 270.5 193.2 264.8M203.1 174.7Q201.9 179.2 197.8 181.1M91.0 40.6Q71.8 39.4 61.5 55.6M189.3 137.4Q182.5 139.0 180.3 145.7M195.2 112.9Q206.5 114.3 217.9 113.3M94.0 109.4Q89.1 103.5 85.2 97.0M82.0 169.2Q86.5 165.5 92.3 164.9M134.0 226.0Q141.1 223.1 147.3 227.6M127.4 211.7Q131.6 202.5 141.5 200.5M114.1 218.2Q119.4 218.1 122.9 214.3M215.6 175.7Q218.5 185.0 213.4 193.3M105.1 39.8Q105.9 50.2 109.2 60.0M174.5 206.1Q169.9 207.1 166.3 204.1M166.7 172.5Q167.0 178.9 171.8 183.2M219.1 245.2Q216.3 234.2 215.2 223.0M218.7 213.3Q219.4 214.2 220.1 215.0M229.7 32.8Q218.1 38.0 208.7 46.8M187.4 44.3Q196.6 48.7 205.2 43.1" stroke="rgba(76,196,48,.7)" stroke-width="1.1"/>
<path d="M112.8 267.1Q121.7 282.0 117.9 298.9M217.3 157.3Q222.4 163.4 223.6 171.2M119.9 98.7Q111.2 103.3 105.1 111.1M110.0 268.5Q110.3 257.7 106.3 247.6M101.7 248.3Q105.7 240.3 106.0 231.5M164.3 249.4Q172.0 252.5 179.7 255.6M188.7 158.6Q183.3 152.9 180.3 145.7M169.7 98.3Q175.7 111.2 178.2 125.1M167.1 146.8Q169.2 144.2 170.8 141.1M219.1 101.6Q221.3 107.8 217.9 113.3M220.2 118.8Q220.4 115.4 217.9 113.3M91.5 185.9Q98.1 184.9 104.7 184.4M121.4 179.4Q113.5 171.7 104.0 166.4M99.9 204.8Q106.2 201.4 108.4 194.6M157.3 237.5Q164.0 232.6 172.3 231.6M195.7 211.4Q193.6 207.1 195.1 202.5M106.5 92.9Q112.4 91.9 116.1 96.6M157.0 51.9Q160.9 56.7 160.7 63.0M160.7 63.0Q164.5 63.3 167.9 64.7M187.2 75.3Q180.6 68.1 177.4 58.7M173.6 24.5Q179.8 33.0 175.7 42.6M204.5 247.7Q201.9 245.1 198.5 243.8M231.0 257.6Q227.5 252.3 222.2 249.0" stroke="rgba(76,196,48,.7)" stroke-width="1.5"/>
<path d="M133.6 52.3Q127.7 58.2 116.1 56.3" stroke="rgba(30,60,6,.6)" stroke-width="5.0"/><path d="M176.0 209.0Q173.1 215.3 168.1 218.5" stroke="rgba(30,60,6,.6)" stroke-width="4.1"/><path d="M200.0 172.0Q201.1 184.4 197.8 186.5" stroke="rgba(30,60,6,.6)" stroke-width="5.4"/><path d="M137.7 103.6Q140.6 115.1 147.0 124.6" stroke="rgba(30,60,6,.6)" stroke-width="4.6"/><path d="M135.3 127.3Q134.7 142.3 128.3 156.9" stroke="rgba(30,60,6,.6)" stroke-width="4.9"/><path d="M99.1 240.3Q96.3 251.1 103.2 269.5" stroke="rgba(30,60,6,.6)" stroke-width="4.1"/><path d="M155.5 199.8Q160.4 207.0 159.4 215.7" stroke="rgba(30,60,6,.6)" stroke-width="4.6"/><path d="M149.6 67.3Q150.3 73.9 146.4 80.1" stroke="rgba(30,60,6,.6)" stroke-width="4.4"/><path d="M155.3 92.9Q152.8 102.0 148.5 120.8" stroke="rgba(30,60,6,.6)" stroke-width="4.7"/><path d="M138.6 75.0Q128.1 82.2 123.4 91.8" stroke="rgba(30,60,6,.6)" stroke-width="5.2"/><path d="M111.1 165.2Q108.4 180.2 108.0 196.2" stroke="rgba(30,60,6,.6)" stroke-width="5.3"/><path d="M129.7 87.3Q136.4 89.3 133.2 100.7" stroke="rgba(30,60,6,.6)" stroke-width="4.7"/><path d="M199.7 105.8Q205.5 120.6 209.3 136.7" stroke="rgba(30,60,6,.6)" stroke-width="5.2"/><path d="M149.2 60.6Q144.3 72.9 145.1 73.7" stroke="rgba(30,60,6,.6)" stroke-width="3.6"/><path d="M97.7 104.7Q100.8 111.5 112.7 117.7" stroke="rgba(30,60,6,.6)" stroke-width="3.9"/><path d="M144.4 69.4Q151.0 83.6 150.4 98.7" stroke="rgba(30,60,6,.6)" stroke-width="4.6"/><path d="M203.6 126.2Q197.5 140.8 190.6 154.5" stroke="rgba(30,60,6,.6)" stroke-width="4.7"/><path d="M210.6 164.1Q206.4 165.9 210.6 177.5" stroke="rgba(30,60,6,.6)" stroke-width="3.8"/><path d="M175.9 143.1Q172.6 148.9 178.4 156.2" stroke="rgba(30,60,6,.6)" stroke-width="4.5"/><path d="M156.2 141.6Q154.2 155.2 144.5 166.3" stroke="rgba(30,60,6,.6)" stroke-width="4.2"/><path d="M92.9 180.3Q100.3 187.9 97.1 199.6" stroke="rgba(30,60,6,.6)" stroke-width="4.8"/><path d="M109.4 102.2Q100.0 116.2 100.8 120.8" stroke="rgba(30,60,6,.6)" stroke-width="5.2"/><path d="M133.6 52.3Q127.7 58.2 116.1 56.3" stroke="rgb(34,168,24)" stroke-width="3.6"/><path d="M176.0 209.0Q173.1 215.3 168.1 218.5" stroke="rgb(34,168,24)" stroke-width="2.7"/><path d="M200.0 172.0Q201.1 184.4 197.8 186.5" stroke="rgb(34,168,24)" stroke-width="4.0"/><path d="M137.7 103.6Q140.6 115.1 147.0 124.6" stroke="rgb(34,168,24)" stroke-width="3.2"/><path d="M135.3 127.3Q134.7 142.3 128.3 156.9" stroke="rgb(34,168,24)" stroke-width="3.5"/><path d="M99.1 240.3Q96.3 251.1 103.2 269.5" stroke="rgb(34,168,24)" stroke-width="2.7"/><path d="M155.5 199.8Q160.4 207.0 159.4 215.7" stroke="rgb(34,168,24)" stroke-width="3.2"/><path d="M149.6 67.3Q150.3 73.9 146.4 80.1" stroke="rgb(34,168,24)" stroke-width="3.0"/><path d="M155.3 92.9Q152.8 102.0 148.5 120.8" stroke="rgb(34,168,24)" stroke-width="3.3"/><path d="M138.6 75.0Q128.1 82.2 123.4 91.8" stroke="rgb(34,168,24)" stroke-width="3.8"/><path d="M111.1 165.2Q108.4 180.2 108.0 196.2" stroke="rgb(34,168,24)" stroke-width="3.9"/><path d="M129.7 87.3Q136.4 89.3 133.2 100.7" stroke="rgb(34,168,24)" stroke-width="3.3"/><path d="M199.7 105.8Q205.5 120.6 209.3 136.7" stroke="rgb(34,168,24)" stroke-width="3.8"/><path d="M149.2 60.6Q144.3 72.9 145.1 73.7" stroke="rgb(34,168,24)" stroke-width="2.2"/><path d="M97.7 104.7Q100.8 111.5 112.7 117.7" stroke="rgb(34,168,24)" stroke-width="2.5"/><path d="M144.4 69.4Q151.0 83.6 150.4 98.7" stroke="rgb(34,168,24)" stroke-width="3.2"/><path d="M203.6 126.2Q197.5 140.8 190.6 154.5" stroke="rgb(34,168,24)" stroke-width="3.3"/><path d="M210.6 164.1Q206.4 165.9 210.6 177.5" stroke="rgb(34,168,24)" stroke-width="2.4"/><path d="M175.9 143.1Q172.6 148.9 178.4 156.2" stroke="rgb(34,168,24)" stroke-width="3.1"/><path d="M156.2 141.6Q154.2 155.2 144.5 166.3" stroke="rgb(34,168,24)" stroke-width="2.8"/><path d="M92.9 180.3Q100.3 187.9 97.1 199.6" stroke="rgb(34,168,24)" stroke-width="3.4"/><path d="M109.4 102.2Q100.0 116.2 100.8 120.8" stroke="rgb(34,168,24)" stroke-width="3.8"/><path d="M133.6 52.3Q127.7 58.2 116.1 56.3" stroke="rgba(80,198,50,.6)" stroke-width="1.1"/><path d="M176.0 209.0Q173.1 215.3 168.1 218.5" stroke="rgba(80,198,50,.6)" stroke-width="0.8"/><path d="M200.0 172.0Q201.1 184.4 197.8 186.5" stroke="rgba(80,198,50,.6)" stroke-width="1.2"/><path d="M137.7 103.6Q140.6 115.1 147.0 124.6" stroke="rgba(80,198,50,.6)" stroke-width="1.0"/><path d="M135.3 127.3Q134.7 142.3 128.3 156.9" stroke="rgba(80,198,50,.6)" stroke-width="1.0"/><path d="M99.1 240.3Q96.3 251.1 103.2 269.5" stroke="rgba(80,198,50,.6)" stroke-width="0.8"/><path d="M155.5 199.8Q160.4 207.0 159.4 215.7" stroke="rgba(80,198,50,.6)" stroke-width="1.0"/><path d="M149.6 67.3Q150.3 73.9 146.4 80.1" stroke="rgba(80,198,50,.6)" stroke-width="0.9"/><path d="M155.3 92.9Q152.8 102.0 148.5 120.8" stroke="rgba(80,198,50,.6)" stroke-width="1.0"/><path d="M138.6 75.0Q128.1 82.2 123.4 91.8" stroke="rgba(80,198,50,.6)" stroke-width="1.1"/><path d="M111.1 165.2Q108.4 180.2 108.0 196.2" stroke="rgba(80,198,50,.6)" stroke-width="1.2"/><path d="M129.7 87.3Q136.4 89.3 133.2 100.7" stroke="rgba(80,198,50,.6)" stroke-width="1.0"/><path d="M199.7 105.8Q205.5 120.6 209.3 136.7" stroke="rgba(80,198,50,.6)" stroke-width="1.1"/><path d="M149.2 60.6Q144.3 72.9 145.1 73.7" stroke="rgba(80,198,50,.6)" stroke-width="0.7"/><path d="M97.7 104.7Q100.8 111.5 112.7 117.7" stroke="rgba(80,198,50,.6)" stroke-width="0.7"/><path d="M144.4 69.4Q151.0 83.6 150.4 98.7" stroke="rgba(80,198,50,.6)" stroke-width="1.0"/><path d="M203.6 126.2Q197.5 140.8 190.6 154.5" stroke="rgba(80,198,50,.6)" stroke-width="1.0"/><path d="M210.6 164.1Q206.4 165.9 210.6 177.5" stroke="rgba(80,198,50,.6)" stroke-width="0.7"/><path d="M175.9 143.1Q172.6 148.9 178.4 156.2" stroke="rgba(80,198,50,.6)" stroke-width="0.9"/><path d="M156.2 141.6Q154.2 155.2 144.5 166.3" stroke="rgba(80,198,50,.6)" stroke-width="0.9"/><path d="M92.9 180.3Q100.3 187.9 97.1 199.6" stroke="rgba(80,198,50,.6)" stroke-width="1.0"/><path d="M109.4 102.2Q100.0 116.2 100.8 120.8" stroke="rgba(80,198,50,.6)" stroke-width="1.1"/>
<path d="M87.5,36.5 Q97,40.5 107,42 T139,42.5 T171,44 T216,42" stroke="rgba(40,60,8,.5)" stroke-width="4.6"/><path d="M87.5,36.5 Q97,40.5 107,42 T139,42.5 T171,44 T216,42" stroke="#2aaa20" stroke-width="3.4"/><path d="M87.5,36 Q97,40 107,41.5 T139,42" stroke="rgba(90,205,58,.7)" stroke-width="1.2"/></g></g>
<g clip-path="url(#trclip)"><g filter="url(#fsm)"><ellipse cx="108" cy="212" rx="15" ry="36" fill="rgba(198,188,58,.8)"/><ellipse cx="100" cy="150" rx="8" ry="30" fill="rgba(190,180,56,.5)"/></g></g>
<path d="M84.6,42 L86.5,33 L94,33.5 L97,36 L104,36.5 L102.5,25 L107.5,25.5 L113,25 L122,19.5 L130,18.6 L131,23 L136,23 L141,19.4 L149,20.8 L158.8,17.9 L169,17.9 L172,23.8 L179.5,23.8 L191.2,21.6 L195.7,25.3 L198.6,26.7 L201.5,24.5 L205.2,26 L204.5,34 L210.4,35.6 L214.8,40 L218,39.2 L218.5,46 L218.7,100 L220.5,112 L221.5,122 L219.5,132 L219,180 L219.5,215 L219.5,250 L216.7,254.7 L205,255 L200,258 L193.3,260.5 L184,258.5 L170,259.5 L166.4,261 L160,262 L157.2,267.2 L154,262 L138.8,262.6 L131,262 L127.7,265.4 L125,261 L111,260.8 L98.3,259 L89,253.4 L88.1,236.8 L87.2,200 L86,150 L85,90 Z" fill="url(#trsh)"/>
<path d="M85.6,95 L86.2,150 L87.4,200 L88.3,236 L89.2,252" fill="none" stroke="rgba(25,85,12,.75)" stroke-width="1.3"/><path d="M219.3,212 L219.4,250" fill="none" stroke="rgba(20,80,10,.8)" stroke-width="1.3"/>
<ellipse cx="133.2" cy="28.2" rx="3.6" ry="3.6" transform="rotate(0 133.2 28.2)" fill="#e9f2fb" stroke="rgba(40,90,15,.6)" stroke-width="0.8"/><ellipse cx="212" cy="142" rx="2.8" ry="8.5" transform="rotate(14 212 142)" fill="#e9f2fb" stroke="rgba(40,90,15,.6)" stroke-width="0.8"/><ellipse cx="120.5" cy="255.2" rx="5.5" ry="1.7" transform="rotate(0 120.5 255.2)" fill="#e9f2fb" stroke="rgba(40,90,15,.6)" stroke-width="0.8"/><ellipse cx="142" cy="259" rx="8" ry="1.6" transform="rotate(0 142 259)" fill="#e9f2fb" stroke="rgba(40,90,15,.6)" stroke-width="0.8"/><ellipse cx="185.2" cy="251.2" rx="2.6" ry="2.4" transform="rotate(0 185.2 251.2)" fill="#e9f2fb" stroke="rgba(40,90,15,.6)" stroke-width="0.8"/><ellipse cx="184.4" cy="164.8" rx="2.2" ry="3" transform="rotate(20 184.4 164.8)" fill="#e9f2fb" stroke="rgba(40,90,15,.6)" stroke-width="0.8"/><ellipse cx="203" cy="170" rx="1.8" ry="2.4" transform="rotate(0 203 170)" fill="#e9f2fb" stroke="rgba(40,90,15,.6)" stroke-width="0.8"/><ellipse cx="184" cy="178.5" rx="2" ry="2.6" transform="rotate(10 184 178.5)" fill="#e9f2fb" stroke="rgba(40,90,15,.6)" stroke-width="0.8"/><ellipse cx="212" cy="195.7" rx="2.4" ry="3" transform="rotate(0 212 195.7)" fill="#e9f2fb" stroke="rgba(40,90,15,.6)" stroke-width="0.8"/><ellipse cx="150.5" cy="22.3" rx="2" ry="2" transform="rotate(0 150.5 22.3)" fill="#e9f2fb" stroke="rgba(40,90,15,.6)" stroke-width="0.8"/><ellipse cx="161" cy="39" rx="1.5" ry="1.2" transform="rotate(0 161 39)" fill="#e9f2fb" stroke="rgba(40,90,15,.6)" stroke-width="0.8"/><ellipse cx="181" cy="38.5" rx="3.2" ry="1.8" transform="rotate(0 181 38.5)" fill="#e9f2fb" stroke="rgba(40,90,15,.6)" stroke-width="0.8"/><ellipse cx="185" cy="64" rx="1.3" ry="1.3" transform="rotate(0 185 64)" fill="#e9f2fb" stroke="rgba(40,90,15,.6)" stroke-width="0.8"/><ellipse cx="100" cy="43.7" rx="1.3" ry="1" transform="rotate(0 100 43.7)" fill="#e9f2fb" stroke="rgba(40,90,15,.6)" stroke-width="0.8"/><ellipse cx="171" cy="256" rx="4" ry="1.6" transform="rotate(0 171 256)" fill="#e9f2fb" stroke="rgba(40,90,15,.6)" stroke-width="0.8"/><ellipse cx="104" cy="256.5" rx="3" ry="1.3" transform="rotate(0 104 256.5)" fill="#e9f2fb" stroke="rgba(40,90,15,.6)" stroke-width="0.8"/><ellipse cx="200" cy="229" rx="1.8" ry="2.6" transform="rotate(0 200 229)" fill="#e9f2fb" stroke="rgba(40,90,15,.6)" stroke-width="0.8"/><ellipse cx="93" cy="238" rx="1.2" ry="2.2" transform="rotate(0 93 238)" fill="#e9f2fb" stroke="rgba(40,90,15,.6)" stroke-width="0.8"/>
</svg>
</body></html>
